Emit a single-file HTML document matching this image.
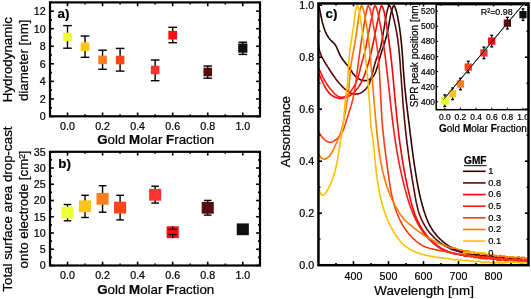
<!DOCTYPE html>
<html><head><meta charset="utf-8"><title>Figure</title>
<style>
html,body{margin:0;padding:0;background:#fff;}
svg{display:block;font-family:"Liberation Sans", Arial, sans-serif;fill:#000;}
text{stroke:#000;stroke-width:0.22px;}
</style></head>
<body>
<svg width="531" height="299" viewBox="0 0 531 299">
<rect width="531" height="299" fill="#fff"/>
<line x1="67.5" y1="116.3" x2="67.5" y2="112.5" stroke="#000" stroke-width="1.6" stroke-linecap="butt"/>
<line x1="67.5" y1="2.4" x2="67.5" y2="6.2" stroke="#000" stroke-width="1.6" stroke-linecap="butt"/>
<line x1="102.56" y1="116.3" x2="102.56" y2="112.5" stroke="#000" stroke-width="1.6" stroke-linecap="butt"/>
<line x1="102.56" y1="2.4" x2="102.56" y2="6.2" stroke="#000" stroke-width="1.6" stroke-linecap="butt"/>
<line x1="137.62" y1="116.3" x2="137.62" y2="112.5" stroke="#000" stroke-width="1.6" stroke-linecap="butt"/>
<line x1="137.62" y1="2.4" x2="137.62" y2="6.2" stroke="#000" stroke-width="1.6" stroke-linecap="butt"/>
<line x1="172.68" y1="116.3" x2="172.68" y2="112.5" stroke="#000" stroke-width="1.6" stroke-linecap="butt"/>
<line x1="172.68" y1="2.4" x2="172.68" y2="6.2" stroke="#000" stroke-width="1.6" stroke-linecap="butt"/>
<line x1="207.74" y1="116.3" x2="207.74" y2="112.5" stroke="#000" stroke-width="1.6" stroke-linecap="butt"/>
<line x1="207.74" y1="2.4" x2="207.74" y2="6.2" stroke="#000" stroke-width="1.6" stroke-linecap="butt"/>
<line x1="242.8" y1="116.3" x2="242.8" y2="112.5" stroke="#000" stroke-width="1.6" stroke-linecap="butt"/>
<line x1="242.8" y1="2.4" x2="242.8" y2="6.2" stroke="#000" stroke-width="1.6" stroke-linecap="butt"/>
<line x1="85.03" y1="116.3" x2="85.03" y2="114.3" stroke="#000" stroke-width="1.6" stroke-linecap="butt"/>
<line x1="85.03" y1="2.4" x2="85.03" y2="4.4" stroke="#000" stroke-width="1.6" stroke-linecap="butt"/>
<line x1="120.09" y1="116.3" x2="120.09" y2="114.3" stroke="#000" stroke-width="1.6" stroke-linecap="butt"/>
<line x1="120.09" y1="2.4" x2="120.09" y2="4.4" stroke="#000" stroke-width="1.6" stroke-linecap="butt"/>
<line x1="155.15" y1="116.3" x2="155.15" y2="114.3" stroke="#000" stroke-width="1.6" stroke-linecap="butt"/>
<line x1="155.15" y1="2.4" x2="155.15" y2="4.4" stroke="#000" stroke-width="1.6" stroke-linecap="butt"/>
<line x1="190.21" y1="116.3" x2="190.21" y2="114.3" stroke="#000" stroke-width="1.6" stroke-linecap="butt"/>
<line x1="190.21" y1="2.4" x2="190.21" y2="4.4" stroke="#000" stroke-width="1.6" stroke-linecap="butt"/>
<line x1="225.27" y1="116.3" x2="225.27" y2="114.3" stroke="#000" stroke-width="1.6" stroke-linecap="butt"/>
<line x1="225.27" y1="2.4" x2="225.27" y2="4.4" stroke="#000" stroke-width="1.6" stroke-linecap="butt"/>
<line x1="50" y1="116.5" x2="53.9" y2="116.5" stroke="#000" stroke-width="1.6" stroke-linecap="butt"/>
<line x1="260" y1="116.5" x2="256.1" y2="116.5" stroke="#000" stroke-width="1.6" stroke-linecap="butt"/>
<line x1="50" y1="98.94" x2="53.9" y2="98.94" stroke="#000" stroke-width="1.6" stroke-linecap="butt"/>
<line x1="260" y1="98.94" x2="256.1" y2="98.94" stroke="#000" stroke-width="1.6" stroke-linecap="butt"/>
<line x1="50" y1="81.38" x2="53.9" y2="81.38" stroke="#000" stroke-width="1.6" stroke-linecap="butt"/>
<line x1="260" y1="81.38" x2="256.1" y2="81.38" stroke="#000" stroke-width="1.6" stroke-linecap="butt"/>
<line x1="50" y1="63.82" x2="53.9" y2="63.82" stroke="#000" stroke-width="1.6" stroke-linecap="butt"/>
<line x1="260" y1="63.82" x2="256.1" y2="63.82" stroke="#000" stroke-width="1.6" stroke-linecap="butt"/>
<line x1="50" y1="46.26" x2="53.9" y2="46.26" stroke="#000" stroke-width="1.6" stroke-linecap="butt"/>
<line x1="260" y1="46.26" x2="256.1" y2="46.26" stroke="#000" stroke-width="1.6" stroke-linecap="butt"/>
<line x1="50" y1="28.7" x2="53.9" y2="28.7" stroke="#000" stroke-width="1.6" stroke-linecap="butt"/>
<line x1="260" y1="28.7" x2="256.1" y2="28.7" stroke="#000" stroke-width="1.6" stroke-linecap="butt"/>
<line x1="50" y1="11.14" x2="53.9" y2="11.14" stroke="#000" stroke-width="1.6" stroke-linecap="butt"/>
<line x1="260" y1="11.14" x2="256.1" y2="11.14" stroke="#000" stroke-width="1.6" stroke-linecap="butt"/>
<line x1="50" y1="107.72" x2="52" y2="107.72" stroke="#000" stroke-width="1.6" stroke-linecap="butt"/>
<line x1="260" y1="107.72" x2="258" y2="107.72" stroke="#000" stroke-width="1.6" stroke-linecap="butt"/>
<line x1="50" y1="90.16" x2="52" y2="90.16" stroke="#000" stroke-width="1.6" stroke-linecap="butt"/>
<line x1="260" y1="90.16" x2="258" y2="90.16" stroke="#000" stroke-width="1.6" stroke-linecap="butt"/>
<line x1="50" y1="72.6" x2="52" y2="72.6" stroke="#000" stroke-width="1.6" stroke-linecap="butt"/>
<line x1="260" y1="72.6" x2="258" y2="72.6" stroke="#000" stroke-width="1.6" stroke-linecap="butt"/>
<line x1="50" y1="55.04" x2="52" y2="55.04" stroke="#000" stroke-width="1.6" stroke-linecap="butt"/>
<line x1="260" y1="55.04" x2="258" y2="55.04" stroke="#000" stroke-width="1.6" stroke-linecap="butt"/>
<line x1="50" y1="37.48" x2="52" y2="37.48" stroke="#000" stroke-width="1.6" stroke-linecap="butt"/>
<line x1="260" y1="37.48" x2="258" y2="37.48" stroke="#000" stroke-width="1.6" stroke-linecap="butt"/>
<line x1="50" y1="19.92" x2="52" y2="19.92" stroke="#000" stroke-width="1.6" stroke-linecap="butt"/>
<line x1="260" y1="19.92" x2="258" y2="19.92" stroke="#000" stroke-width="1.6" stroke-linecap="butt"/>
<line x1="50" y1="2.36" x2="52" y2="2.36" stroke="#000" stroke-width="1.6" stroke-linecap="butt"/>
<line x1="260" y1="2.36" x2="258" y2="2.36" stroke="#000" stroke-width="1.6" stroke-linecap="butt"/>
<rect x="50" y="2.4" width="210" height="113.9" fill="none" stroke="#000" stroke-width="2.2"/>
<text x="45.6" y="120.35" font-size="10.67" text-anchor="end" font-weight="normal">0</text>
<text x="45.6" y="102.79" font-size="10.67" text-anchor="end" font-weight="normal">2</text>
<text x="45.6" y="85.23" font-size="10.67" text-anchor="end" font-weight="normal">4</text>
<text x="45.6" y="67.67" font-size="10.67" text-anchor="end" font-weight="normal">6</text>
<text x="45.6" y="50.11" font-size="10.67" text-anchor="end" font-weight="normal">8</text>
<text x="45.6" y="32.55" font-size="10.67" text-anchor="end" font-weight="normal">10</text>
<text x="45.6" y="14.99" font-size="10.67" text-anchor="end" font-weight="normal">12</text>
<text x="67.5" y="130.4" font-size="10.67" text-anchor="middle" font-weight="normal">0.0</text>
<text x="102.56" y="130.4" font-size="10.67" text-anchor="middle" font-weight="normal">0.2</text>
<text x="137.62" y="130.4" font-size="10.67" text-anchor="middle" font-weight="normal">0.4</text>
<text x="172.68" y="130.4" font-size="10.67" text-anchor="middle" font-weight="normal">0.6</text>
<text x="207.74" y="130.4" font-size="10.67" text-anchor="middle" font-weight="normal">0.8</text>
<text x="242.8" y="130.4" font-size="10.67" text-anchor="middle" font-weight="normal">1.0</text>
<text x="155.7" y="143.7" font-size="13.33" text-anchor="middle" font-weight="normal"><tspan font-weight="bold">G</tspan>old <tspan font-weight="bold">M</tspan>olar <tspan font-weight="bold">F</tspan>raction</text>
<text x="11.6" y="59.6" font-size="13.33" text-anchor="middle" font-weight="normal" transform="rotate(-90 11.6 59.6)">Hydrodynamic</text>
<text x="27.6" y="60.3" font-size="13.33" text-anchor="middle" font-weight="normal" transform="rotate(-90 27.6 60.3)">diameter [nm]</text>
<text x="57.6" y="17.6" font-size="13.33" text-anchor="start" font-weight="bold">a)</text>
<line x1="67.5" y1="25.6" x2="67.5" y2="48.2" stroke="#000" stroke-width="1.4" stroke-linecap="butt"/>
<line x1="63.2" y1="25.6" x2="71.8" y2="25.6" stroke="#000" stroke-width="1.4" stroke-linecap="butt"/>
<line x1="63.2" y1="48.2" x2="71.8" y2="48.2" stroke="#000" stroke-width="1.4" stroke-linecap="butt"/>
<rect x="63.2" y="32.6" width="8.6" height="8.6" fill="#eeff33"/>
<line x1="85.03" y1="36" x2="85.03" y2="57.3" stroke="#000" stroke-width="1.4" stroke-linecap="butt"/>
<line x1="80.73" y1="36" x2="89.33" y2="36" stroke="#000" stroke-width="1.4" stroke-linecap="butt"/>
<line x1="80.73" y1="57.3" x2="89.33" y2="57.3" stroke="#000" stroke-width="1.4" stroke-linecap="butt"/>
<rect x="80.73" y="42.4" width="8.6" height="8.6" fill="#ffc21e"/>
<line x1="102.56" y1="50.2" x2="102.56" y2="69.3" stroke="#000" stroke-width="1.4" stroke-linecap="butt"/>
<line x1="98.26" y1="50.2" x2="106.86" y2="50.2" stroke="#000" stroke-width="1.4" stroke-linecap="butt"/>
<line x1="98.26" y1="69.3" x2="106.86" y2="69.3" stroke="#000" stroke-width="1.4" stroke-linecap="butt"/>
<rect x="98.26" y="55.6" width="8.6" height="8.6" fill="#ff7f1e"/>
<line x1="120.09" y1="48.4" x2="120.09" y2="71.1" stroke="#000" stroke-width="1.4" stroke-linecap="butt"/>
<line x1="115.79" y1="48.4" x2="124.39" y2="48.4" stroke="#000" stroke-width="1.4" stroke-linecap="butt"/>
<line x1="115.79" y1="71.1" x2="124.39" y2="71.1" stroke="#000" stroke-width="1.4" stroke-linecap="butt"/>
<rect x="115.79" y="55.7" width="8.6" height="8.6" fill="#ff4518"/>
<line x1="155.15" y1="60" x2="155.15" y2="80.7" stroke="#000" stroke-width="1.4" stroke-linecap="butt"/>
<line x1="150.85" y1="60" x2="159.45" y2="60" stroke="#000" stroke-width="1.4" stroke-linecap="butt"/>
<line x1="150.85" y1="80.7" x2="159.45" y2="80.7" stroke="#000" stroke-width="1.4" stroke-linecap="butt"/>
<rect x="150.85" y="65.7" width="8.6" height="8.6" fill="#ff3030"/>
<line x1="172.68" y1="27.3" x2="172.68" y2="42.7" stroke="#000" stroke-width="1.4" stroke-linecap="butt"/>
<line x1="168.38" y1="27.3" x2="176.98" y2="27.3" stroke="#000" stroke-width="1.4" stroke-linecap="butt"/>
<line x1="168.38" y1="42.7" x2="176.98" y2="42.7" stroke="#000" stroke-width="1.4" stroke-linecap="butt"/>
<rect x="168.38" y="30.9" width="8.6" height="8.6" fill="#ff0c0c"/>
<line x1="207.74" y1="66" x2="207.74" y2="78.2" stroke="#000" stroke-width="1.4" stroke-linecap="butt"/>
<line x1="203.44" y1="66" x2="212.04" y2="66" stroke="#000" stroke-width="1.4" stroke-linecap="butt"/>
<line x1="203.44" y1="78.2" x2="212.04" y2="78.2" stroke="#000" stroke-width="1.4" stroke-linecap="butt"/>
<rect x="203.44" y="67.7" width="8.6" height="8.6" fill="#5a0c0c"/>
<line x1="242.8" y1="42.2" x2="242.8" y2="54.4" stroke="#000" stroke-width="1.4" stroke-linecap="butt"/>
<line x1="238.5" y1="42.2" x2="247.1" y2="42.2" stroke="#000" stroke-width="1.4" stroke-linecap="butt"/>
<line x1="238.5" y1="54.4" x2="247.1" y2="54.4" stroke="#000" stroke-width="1.4" stroke-linecap="butt"/>
<rect x="238.2" y="43.5" width="9.2" height="9.2" fill="#101010"/>
<line x1="67.5" y1="265.5" x2="67.5" y2="261.7" stroke="#000" stroke-width="1.6" stroke-linecap="butt"/>
<line x1="67.5" y1="151.8" x2="67.5" y2="155.6" stroke="#000" stroke-width="1.6" stroke-linecap="butt"/>
<line x1="102.56" y1="265.5" x2="102.56" y2="261.7" stroke="#000" stroke-width="1.6" stroke-linecap="butt"/>
<line x1="102.56" y1="151.8" x2="102.56" y2="155.6" stroke="#000" stroke-width="1.6" stroke-linecap="butt"/>
<line x1="137.62" y1="265.5" x2="137.62" y2="261.7" stroke="#000" stroke-width="1.6" stroke-linecap="butt"/>
<line x1="137.62" y1="151.8" x2="137.62" y2="155.6" stroke="#000" stroke-width="1.6" stroke-linecap="butt"/>
<line x1="172.68" y1="265.5" x2="172.68" y2="261.7" stroke="#000" stroke-width="1.6" stroke-linecap="butt"/>
<line x1="172.68" y1="151.8" x2="172.68" y2="155.6" stroke="#000" stroke-width="1.6" stroke-linecap="butt"/>
<line x1="207.74" y1="265.5" x2="207.74" y2="261.7" stroke="#000" stroke-width="1.6" stroke-linecap="butt"/>
<line x1="207.74" y1="151.8" x2="207.74" y2="155.6" stroke="#000" stroke-width="1.6" stroke-linecap="butt"/>
<line x1="242.8" y1="265.5" x2="242.8" y2="261.7" stroke="#000" stroke-width="1.6" stroke-linecap="butt"/>
<line x1="242.8" y1="151.8" x2="242.8" y2="155.6" stroke="#000" stroke-width="1.6" stroke-linecap="butt"/>
<line x1="85.03" y1="265.5" x2="85.03" y2="263.5" stroke="#000" stroke-width="1.6" stroke-linecap="butt"/>
<line x1="85.03" y1="151.8" x2="85.03" y2="153.8" stroke="#000" stroke-width="1.6" stroke-linecap="butt"/>
<line x1="120.09" y1="265.5" x2="120.09" y2="263.5" stroke="#000" stroke-width="1.6" stroke-linecap="butt"/>
<line x1="120.09" y1="151.8" x2="120.09" y2="153.8" stroke="#000" stroke-width="1.6" stroke-linecap="butt"/>
<line x1="155.15" y1="265.5" x2="155.15" y2="263.5" stroke="#000" stroke-width="1.6" stroke-linecap="butt"/>
<line x1="155.15" y1="151.8" x2="155.15" y2="153.8" stroke="#000" stroke-width="1.6" stroke-linecap="butt"/>
<line x1="190.21" y1="265.5" x2="190.21" y2="263.5" stroke="#000" stroke-width="1.6" stroke-linecap="butt"/>
<line x1="190.21" y1="151.8" x2="190.21" y2="153.8" stroke="#000" stroke-width="1.6" stroke-linecap="butt"/>
<line x1="225.27" y1="265.5" x2="225.27" y2="263.5" stroke="#000" stroke-width="1.6" stroke-linecap="butt"/>
<line x1="225.27" y1="151.8" x2="225.27" y2="153.8" stroke="#000" stroke-width="1.6" stroke-linecap="butt"/>
<line x1="50" y1="265.5" x2="53.9" y2="265.5" stroke="#000" stroke-width="1.6" stroke-linecap="butt"/>
<line x1="260" y1="265.5" x2="256.1" y2="265.5" stroke="#000" stroke-width="1.6" stroke-linecap="butt"/>
<line x1="50" y1="249.25" x2="53.9" y2="249.25" stroke="#000" stroke-width="1.6" stroke-linecap="butt"/>
<line x1="260" y1="249.25" x2="256.1" y2="249.25" stroke="#000" stroke-width="1.6" stroke-linecap="butt"/>
<line x1="50" y1="233" x2="53.9" y2="233" stroke="#000" stroke-width="1.6" stroke-linecap="butt"/>
<line x1="260" y1="233" x2="256.1" y2="233" stroke="#000" stroke-width="1.6" stroke-linecap="butt"/>
<line x1="50" y1="216.75" x2="53.9" y2="216.75" stroke="#000" stroke-width="1.6" stroke-linecap="butt"/>
<line x1="260" y1="216.75" x2="256.1" y2="216.75" stroke="#000" stroke-width="1.6" stroke-linecap="butt"/>
<line x1="50" y1="200.5" x2="53.9" y2="200.5" stroke="#000" stroke-width="1.6" stroke-linecap="butt"/>
<line x1="260" y1="200.5" x2="256.1" y2="200.5" stroke="#000" stroke-width="1.6" stroke-linecap="butt"/>
<line x1="50" y1="184.25" x2="53.9" y2="184.25" stroke="#000" stroke-width="1.6" stroke-linecap="butt"/>
<line x1="260" y1="184.25" x2="256.1" y2="184.25" stroke="#000" stroke-width="1.6" stroke-linecap="butt"/>
<line x1="50" y1="168" x2="53.9" y2="168" stroke="#000" stroke-width="1.6" stroke-linecap="butt"/>
<line x1="260" y1="168" x2="256.1" y2="168" stroke="#000" stroke-width="1.6" stroke-linecap="butt"/>
<line x1="50" y1="151.75" x2="53.9" y2="151.75" stroke="#000" stroke-width="1.6" stroke-linecap="butt"/>
<line x1="260" y1="151.75" x2="256.1" y2="151.75" stroke="#000" stroke-width="1.6" stroke-linecap="butt"/>
<line x1="50" y1="257.38" x2="52" y2="257.38" stroke="#000" stroke-width="1.6" stroke-linecap="butt"/>
<line x1="260" y1="257.38" x2="258" y2="257.38" stroke="#000" stroke-width="1.6" stroke-linecap="butt"/>
<line x1="50" y1="241.12" x2="52" y2="241.12" stroke="#000" stroke-width="1.6" stroke-linecap="butt"/>
<line x1="260" y1="241.12" x2="258" y2="241.12" stroke="#000" stroke-width="1.6" stroke-linecap="butt"/>
<line x1="50" y1="224.88" x2="52" y2="224.88" stroke="#000" stroke-width="1.6" stroke-linecap="butt"/>
<line x1="260" y1="224.88" x2="258" y2="224.88" stroke="#000" stroke-width="1.6" stroke-linecap="butt"/>
<line x1="50" y1="208.62" x2="52" y2="208.62" stroke="#000" stroke-width="1.6" stroke-linecap="butt"/>
<line x1="260" y1="208.62" x2="258" y2="208.62" stroke="#000" stroke-width="1.6" stroke-linecap="butt"/>
<line x1="50" y1="192.38" x2="52" y2="192.38" stroke="#000" stroke-width="1.6" stroke-linecap="butt"/>
<line x1="260" y1="192.38" x2="258" y2="192.38" stroke="#000" stroke-width="1.6" stroke-linecap="butt"/>
<line x1="50" y1="176.12" x2="52" y2="176.12" stroke="#000" stroke-width="1.6" stroke-linecap="butt"/>
<line x1="260" y1="176.12" x2="258" y2="176.12" stroke="#000" stroke-width="1.6" stroke-linecap="butt"/>
<line x1="50" y1="159.88" x2="52" y2="159.88" stroke="#000" stroke-width="1.6" stroke-linecap="butt"/>
<line x1="260" y1="159.88" x2="258" y2="159.88" stroke="#000" stroke-width="1.6" stroke-linecap="butt"/>
<rect x="50" y="151.8" width="210" height="113.7" fill="none" stroke="#000" stroke-width="2.2"/>
<text x="45.6" y="269.35" font-size="10.67" text-anchor="end" font-weight="normal">0</text>
<text x="45.6" y="253.1" font-size="10.67" text-anchor="end" font-weight="normal">5</text>
<text x="45.6" y="236.85" font-size="10.67" text-anchor="end" font-weight="normal">10</text>
<text x="45.6" y="220.6" font-size="10.67" text-anchor="end" font-weight="normal">15</text>
<text x="45.6" y="204.35" font-size="10.67" text-anchor="end" font-weight="normal">20</text>
<text x="45.6" y="188.1" font-size="10.67" text-anchor="end" font-weight="normal">25</text>
<text x="45.6" y="171.85" font-size="10.67" text-anchor="end" font-weight="normal">30</text>
<text x="45.6" y="155.6" font-size="10.67" text-anchor="end" font-weight="normal">35</text>
<text x="67.5" y="279.2" font-size="10.67" text-anchor="middle" font-weight="normal">0.0</text>
<text x="102.56" y="279.2" font-size="10.67" text-anchor="middle" font-weight="normal">0.2</text>
<text x="137.62" y="279.2" font-size="10.67" text-anchor="middle" font-weight="normal">0.4</text>
<text x="172.68" y="279.2" font-size="10.67" text-anchor="middle" font-weight="normal">0.6</text>
<text x="207.74" y="279.2" font-size="10.67" text-anchor="middle" font-weight="normal">0.8</text>
<text x="242.8" y="279.2" font-size="10.67" text-anchor="middle" font-weight="normal">1.0</text>
<text x="155.7" y="294.1" font-size="13.33" text-anchor="middle" font-weight="normal"><tspan font-weight="bold">G</tspan>old <tspan font-weight="bold">M</tspan>olar <tspan font-weight="bold">F</tspan>raction</text>
<text x="11.6" y="209.1" font-size="13.33" text-anchor="middle" font-weight="normal" transform="rotate(-90 11.6 209.1)">Total surface area drop-cast</text>
<text x="27.6" y="209.5" font-size="13.33" text-anchor="middle" font-weight="normal" transform="rotate(-90 27.6 209.5)">onto electrode [cm²]</text>
<text x="58.3" y="168.3" font-size="13.33" text-anchor="start" font-weight="bold">b)</text>
<line x1="67.5" y1="204.5" x2="67.5" y2="220.8" stroke="#000" stroke-width="1.4" stroke-linecap="butt"/>
<line x1="63.7" y1="204.5" x2="71.3" y2="204.5" stroke="#000" stroke-width="1.4" stroke-linecap="butt"/>
<line x1="63.7" y1="220.8" x2="71.3" y2="220.8" stroke="#000" stroke-width="1.4" stroke-linecap="butt"/>
<rect x="61.45" y="206.7" width="12.1" height="11.8" fill="#eeff33"/>
<line x1="85.03" y1="195.3" x2="85.03" y2="217.5" stroke="#000" stroke-width="1.4" stroke-linecap="butt"/>
<line x1="81.23" y1="195.3" x2="88.83" y2="195.3" stroke="#000" stroke-width="1.4" stroke-linecap="butt"/>
<line x1="81.23" y1="217.5" x2="88.83" y2="217.5" stroke="#000" stroke-width="1.4" stroke-linecap="butt"/>
<rect x="78.98" y="200.4" width="12.1" height="11.8" fill="#ffc21e"/>
<line x1="102.56" y1="185.7" x2="102.56" y2="212.2" stroke="#000" stroke-width="1.4" stroke-linecap="butt"/>
<line x1="98.76" y1="185.7" x2="106.36" y2="185.7" stroke="#000" stroke-width="1.4" stroke-linecap="butt"/>
<line x1="98.76" y1="212.2" x2="106.36" y2="212.2" stroke="#000" stroke-width="1.4" stroke-linecap="butt"/>
<rect x="96.51" y="192.9" width="12.1" height="11.8" fill="#ff7f1e"/>
<line x1="120.09" y1="195.3" x2="120.09" y2="219.9" stroke="#000" stroke-width="1.4" stroke-linecap="butt"/>
<line x1="116.29" y1="195.3" x2="123.89" y2="195.3" stroke="#000" stroke-width="1.4" stroke-linecap="butt"/>
<line x1="116.29" y1="219.9" x2="123.89" y2="219.9" stroke="#000" stroke-width="1.4" stroke-linecap="butt"/>
<rect x="114.04" y="201.7" width="12.1" height="11.8" fill="#ff4518"/>
<line x1="155.15" y1="186.2" x2="155.15" y2="203.1" stroke="#000" stroke-width="1.4" stroke-linecap="butt"/>
<line x1="151.35" y1="186.2" x2="158.95" y2="186.2" stroke="#000" stroke-width="1.4" stroke-linecap="butt"/>
<line x1="151.35" y1="203.1" x2="158.95" y2="203.1" stroke="#000" stroke-width="1.4" stroke-linecap="butt"/>
<rect x="149.1" y="188.9" width="12.1" height="11.8" fill="#ff3030"/>
<rect x="166.63" y="226.3" width="12.1" height="11.8" fill="#ff0c0c"/>
<line x1="172.68" y1="226.2" x2="172.68" y2="229.4" stroke="#000" stroke-width="1.3" stroke-linecap="butt"/>
<line x1="172.68" y1="234.5" x2="172.68" y2="238.3" stroke="#000" stroke-width="1.3" stroke-linecap="butt"/>
<line x1="168.58" y1="229.4" x2="176.78" y2="229.4" stroke="#000" stroke-width="1.3" stroke-linecap="butt"/>
<line x1="168.58" y1="234.5" x2="176.78" y2="234.5" stroke="#000" stroke-width="1.3" stroke-linecap="butt"/>
<line x1="207.74" y1="200.4" x2="207.74" y2="215.1" stroke="#000" stroke-width="1.4" stroke-linecap="butt"/>
<line x1="203.94" y1="200.4" x2="211.54" y2="200.4" stroke="#000" stroke-width="1.4" stroke-linecap="butt"/>
<line x1="203.94" y1="215.1" x2="211.54" y2="215.1" stroke="#000" stroke-width="1.4" stroke-linecap="butt"/>
<rect x="201.69" y="201.9" width="12.1" height="11.8" fill="#5a0c0c"/>
<line x1="242.8" y1="226" x2="242.8" y2="232.6" stroke="#000" stroke-width="1.4" stroke-linecap="butt"/>
<line x1="239" y1="226" x2="246.6" y2="226" stroke="#000" stroke-width="1.4" stroke-linecap="butt"/>
<line x1="239" y1="232.6" x2="246.6" y2="232.6" stroke="#000" stroke-width="1.4" stroke-linecap="butt"/>
<rect x="236.75" y="223.4" width="12.1" height="11.8" fill="#101010"/>
<clipPath id="cc"><rect x="318.45" y="3.45" width="210.05" height="261.75"/></clipPath>
<g clip-path="url(#cc)" fill="none" stroke-width="1.6" stroke-linejoin="round">
<path d="M318.7,5.1 319.0,5.7 319.2,6.9 319.5,8.2 319.7,9.4 319.9,10.6 320.2,11.8 320.4,13.1 320.6,14.3 320.9,15.5 321.1,16.8 321.4,18.0 321.7,19.2 321.9,20.4 322.2,21.7 322.5,22.9 322.9,24.1 323.2,25.3 323.6,26.5 323.9,27.7 324.3,28.9 324.8,30.0 325.2,31.2 325.7,32.4 326.3,33.5 326.8,34.6 327.4,35.8 328.1,36.8 328.8,37.9 329.5,38.9 330.3,39.8 331.2,40.7 332.2,41.6 333.1,42.4 334.0,43.3 334.8,44.2 335.5,45.2 336.1,46.3 336.7,47.4 337.2,48.6 337.7,49.7 338.2,50.9 338.7,52.1 339.2,53.2 339.7,54.4 340.2,55.5 340.9,56.6 341.5,57.7 342.2,58.7 342.9,59.7 343.7,60.7 344.5,61.7 345.2,62.7 346.0,63.7 346.8,64.6 347.6,65.6 348.4,66.6 349.1,67.7 349.8,68.7 350.5,69.7 351.2,70.8 351.9,71.8 352.6,72.9 353.4,73.9 354.2,74.8 355.0,75.8 355.9,76.7 356.8,77.5 357.9,78.3 358.9,78.9 360.1,79.5 361.2,80.0 362.4,80.4 363.7,80.6 364.9,80.6 366.2,80.5 367.4,80.2 368.7,79.8 369.9,79.2 370.9,78.6 371.9,77.8 372.7,76.9 373.5,75.9 374.2,74.9 374.8,73.8 375.3,72.7 375.8,71.5 376.2,70.3 376.6,69.1 377.0,67.9 377.4,66.7 377.7,65.4 378.1,64.2 378.4,63.0 378.7,61.8 379.0,60.6 379.4,59.4 379.7,58.2 380.1,57.0 380.4,55.8 380.8,54.6 381.1,53.4 381.5,52.2 381.9,51.0 382.3,49.8 382.7,48.7 383.1,47.5 383.4,46.3 383.8,45.1 384.2,43.9 384.6,42.7 385.0,41.5 385.3,40.3 385.7,39.1 386.0,37.8 386.3,36.6 386.7,35.4 387.0,34.2 387.2,33.0 387.5,31.7 387.8,30.5 388.0,29.2 388.3,28.0 388.5,26.8 388.7,25.5 388.9,24.3 389.1,23.1 389.3,21.8 389.5,20.6 389.8,19.4 390.0,18.2 390.2,17.0 390.4,15.8 390.7,14.6 390.9,13.4 391.2,12.2 391.6,10.9 392.0,9.6 392.4,8.3 392.9,6.9 393.5,5.9 394.0,5.6 394.6,6.3 395.1,7.5 395.6,8.9 396.1,10.2 396.4,11.5 396.8,12.7 397.0,13.9 397.3,15.1 397.5,16.3 397.8,17.5 398.0,18.7 398.2,19.9 398.4,21.1 398.7,22.3 398.9,23.6 399.1,24.8 399.3,26.1 399.5,27.3 399.7,28.5 399.8,29.8 400.0,31.0 400.2,32.3 400.3,33.6 400.5,34.8 400.7,36.1 400.8,37.3 400.9,38.6 401.1,39.8 401.2,41.1 401.3,42.3 401.5,43.6 401.6,44.8 401.7,46.1 401.8,47.3 401.9,48.6 402.0,49.8 402.1,51.1 402.2,52.3 402.3,53.6 402.4,54.8 402.5,56.1 402.6,57.3 402.7,58.6 402.7,59.8 402.8,61.1 402.9,62.3 403.0,63.6 403.1,64.8 403.2,66.1 403.2,67.3 403.3,68.6 403.4,69.8 403.5,71.1 403.6,72.3 403.7,73.6 403.8,74.8 403.9,76.1 404.0,77.3 404.1,78.6 404.2,79.8 404.3,81.1 404.4,82.3 404.5,83.6 404.6,84.8 404.7,86.1 404.8,87.3 405.0,88.6 405.1,89.8 405.2,91.1 405.3,92.3 405.5,93.6 405.6,94.8 405.7,96.1 405.9,97.3 406.0,98.6 406.1,99.8 406.3,101.1 406.4,102.3 406.6,103.6 406.7,104.8 406.9,106.1 407.0,107.3 407.2,108.5 407.3,109.8 407.5,111.0 407.6,112.3 407.8,113.5 407.9,114.8 408.1,116.0 408.2,117.3 408.4,118.5 408.5,119.8 408.7,121.0 408.8,122.2 409.0,123.5 409.2,124.7 409.3,126.0 409.5,127.2 409.6,128.5 409.8,129.7 409.9,131.0 410.1,132.2 410.2,133.4 410.4,134.7 410.5,135.9 410.7,137.2 410.9,138.4 411.0,139.7 411.2,140.9 411.3,142.1 411.5,143.4 411.6,144.6 411.8,145.9 412.0,147.1 412.1,148.4 412.3,149.6 412.4,150.8 412.6,152.1 412.8,153.3 412.9,154.6 413.1,155.8 413.3,157.1 413.4,158.3 413.6,159.5 413.8,160.8 414.0,162.0 414.1,163.3 414.3,164.5 414.5,165.7 414.7,167.0 414.9,168.2 415.1,169.5 415.3,170.7 415.5,172.0 415.7,173.2 415.9,174.4 416.1,175.7 416.3,176.9 416.5,178.2 416.7,179.4 416.9,180.7 417.1,181.9 417.4,183.1 417.6,184.4 417.8,185.6 418.1,186.8 418.3,188.1 418.5,189.3 418.8,190.5 419.1,191.8 419.3,193.0 419.6,194.2 419.9,195.5 420.2,196.7 420.4,197.9 420.7,199.1 421.0,200.3 421.4,201.6 421.7,202.8 422.0,204.0 422.3,205.2 422.7,206.4 423.0,207.6 423.4,208.8 423.7,210.0 424.1,211.2 424.5,212.4 424.9,213.6 425.3,214.7 425.7,215.9 426.1,217.1 426.5,218.3 427.0,219.4 427.5,220.6 428.0,221.7 428.5,222.9 429.0,224.0 429.6,225.1 430.2,226.2 430.8,227.3 431.5,228.4 432.1,229.5 432.8,230.5 433.6,231.6 434.3,232.6 435.1,233.6 435.9,234.6 436.7,235.6 437.5,236.5 438.4,237.4 439.3,238.3 440.2,239.2 441.1,240.0 442.1,240.9 443.0,241.8 444.0,242.5 445.0,243.4 446.0,244.2 447.0,244.8 448.1,245.5 449.1,246.4 450.2,246.7 451.3,247.3 452.4,247.7 453.5,248.5 454.6,249.3 455.7,249.7 456.9,249.8 458.0,250.2 459.2,250.7 460.4,251.3 461.5,251.6 462.7,252.1 463.9,252.4 465.2,252.6 466.4,253.0 467.6,253.4 468.8,253.6 470.1,254.0 471.3,254.7 472.5,254.6 473.8,254.6 475.0,254.2 476.3,255.2 477.5,254.4 478.8,254.8 480.1,255.9 481.3,256.1 482.6,255.9 483.8,255.3 485.1,256.1 486.4,256.1 487.6,256.9 488.9,257.8 490.1,257.0 491.4,256.6 492.6,256.5 493.9,257.3 495.1,257.3 496.3,257.0 497.6,257.8 498.8,257.2 500.1,258.6 501.3,258.7 502.5,258.9 503.8,258.2 505.0,258.8 506.2,258.6 507.5,258.6 508.7,258.7 509.9,258.3 511.2,258.4 512.4,259.7 513.6,259.3 514.9,259.6 516.1,260.1 517.4,258.7 518.6,259.3 519.9,259.9 521.1,260.1 522.4,259.8 523.7,260.6 524.9,260.2 526.2,259.5 527.5,259.7" stroke="#300404"/>
<path d="M318.5,44.5 318.6,45.8 318.8,47.1 319.0,48.3 319.2,49.6 319.5,50.8 319.9,52.0 320.3,53.2 320.8,54.3 321.2,55.5 321.7,56.6 322.3,57.7 322.9,58.9 323.5,59.9 324.1,61.0 324.7,62.1 325.4,63.2 326.0,64.3 326.7,65.3 327.4,66.4 328.1,67.4 328.8,68.5 329.4,69.5 330.1,70.6 330.8,71.7 331.5,72.7 332.2,73.7 332.9,74.8 333.6,75.8 334.4,76.8 335.1,77.9 335.8,78.9 336.6,79.9 337.4,80.9 338.1,81.8 338.9,82.8 339.7,83.8 340.6,84.7 341.4,85.6 342.3,86.6 343.2,87.4 344.1,88.3 345.0,89.1 346.0,89.9 347.0,90.7 348.0,91.4 349.1,92.1 350.2,92.7 351.4,93.3 352.5,93.7 353.8,94.0 355.0,94.1 356.3,94.0 357.5,93.9 358.8,93.6 360.0,93.2 361.1,92.7 362.2,92.1 363.3,91.4 364.2,90.6 365.2,89.7 366.0,88.8 366.8,87.8 367.5,86.8 368.2,85.7 368.8,84.6 369.3,83.4 369.8,82.3 370.2,81.1 370.6,79.9 371.0,78.7 371.3,77.5 371.6,76.3 372.0,75.0 372.3,73.8 372.6,72.6 372.9,71.4 373.2,70.2 373.5,69.0 373.8,67.7 374.1,66.5 374.5,65.3 374.8,64.1 375.1,62.9 375.5,61.7 375.9,60.5 376.2,59.3 376.7,58.1 377.1,56.9 377.5,55.7 378.0,54.6 378.4,53.4 378.9,52.2 379.3,51.0 379.7,49.9 380.1,48.7 380.5,47.5 380.8,46.3 381.1,45.1 381.4,43.8 381.6,42.6 381.9,41.4 382.1,40.2 382.3,38.9 382.5,37.7 382.7,36.4 382.9,35.2 383.1,33.9 383.3,32.6 383.5,31.4 383.7,30.1 384.0,28.9 384.2,27.6 384.4,26.3 384.6,25.1 384.8,23.8 385.0,22.6 385.2,21.4 385.4,20.2 385.6,19.0 385.8,17.8 386.0,16.6 386.2,15.4 386.5,14.2 386.7,13.1 387.0,11.8 387.3,10.5 387.7,9.2 388.1,7.8 388.6,6.4 389.2,5.6 389.7,5.7 390.3,6.7 390.8,8.1 391.3,9.5 391.7,10.8 392.1,12.1 392.4,13.3 392.7,14.4 393.0,15.6 393.3,16.7 393.5,17.9 393.8,19.1 394.1,20.3 394.4,21.5 394.7,22.7 394.9,23.9 395.2,25.1 395.5,26.4 395.7,27.6 396.0,28.9 396.2,30.1 396.4,31.4 396.7,32.6 396.9,33.9 397.1,35.1 397.3,36.4 397.5,37.6 397.7,38.9 397.9,40.1 398.0,41.4 398.2,42.6 398.3,43.9 398.5,45.1 398.6,46.4 398.8,47.6 398.9,48.9 399.0,50.1 399.1,51.4 399.3,52.6 399.4,53.9 399.5,55.1 399.6,56.4 399.7,57.6 399.8,58.9 399.9,60.1 400.0,61.4 400.1,62.6 400.2,63.9 400.3,65.1 400.4,66.4 400.4,67.6 400.5,68.9 400.6,70.1 400.7,71.4 400.8,72.6 400.9,73.9 401.0,75.1 401.1,76.4 401.2,77.6 401.3,78.9 401.3,80.1 401.4,81.4 401.5,82.6 401.6,83.9 401.7,85.2 401.8,86.4 401.9,87.7 402.0,88.9 402.1,90.2 402.2,91.4 402.3,92.7 402.3,93.9 402.4,95.2 402.5,96.4 402.6,97.7 402.7,98.9 402.8,100.2 402.9,101.5 403.0,102.7 403.1,104.0 403.2,105.2 403.3,106.5 403.4,107.7 403.5,109.0 403.6,110.2 403.7,111.5 403.9,112.7 404.0,114.0 404.1,115.2 404.2,116.5 404.3,117.7 404.4,119.0 404.5,120.2 404.7,121.5 404.8,122.7 404.9,124.0 405.0,125.2 405.2,126.5 405.3,127.7 405.4,129.0 405.5,130.2 405.7,131.5 405.8,132.7 406.0,134.0 406.1,135.2 406.2,136.5 406.4,137.7 406.5,139.0 406.7,140.2 406.8,141.5 407.0,142.7 407.1,143.9 407.3,145.2 407.5,146.4 407.6,147.7 407.8,148.9 407.9,150.2 408.1,151.4 408.3,152.7 408.4,153.9 408.6,155.1 408.8,156.4 408.9,157.6 409.1,158.9 409.3,160.1 409.5,161.4 409.7,162.6 409.8,163.8 410.0,165.1 410.2,166.3 410.4,167.6 410.6,168.8 410.8,170.0 411.0,171.3 411.2,172.5 411.4,173.8 411.6,175.0 411.7,176.2 411.9,177.5 412.1,178.7 412.4,180.0 412.6,181.2 412.8,182.5 413.0,183.7 413.2,184.9 413.4,186.2 413.6,187.4 413.8,188.7 414.0,189.9 414.2,191.1 414.5,192.4 414.7,193.6 414.9,194.9 415.1,196.1 415.3,197.4 415.6,198.6 415.8,199.8 416.0,201.1 416.3,202.3 416.5,203.6 416.8,204.8 417.1,206.0 417.4,207.2 417.7,208.4 418.0,209.7 418.3,210.9 418.7,212.1 419.1,213.2 419.5,214.4 419.9,215.6 420.4,216.8 420.8,217.9 421.3,219.1 421.8,220.2 422.4,221.3 423.0,222.4 423.5,223.5 424.2,224.6 424.8,225.7 425.5,226.8 426.1,227.8 426.8,228.9 427.6,229.9 428.3,230.9 429.1,231.9 429.9,232.9 430.7,233.9 431.5,234.8 432.4,235.8 433.2,236.7 434.1,237.6 435.0,238.5 436.0,239.3 436.9,240.2 437.9,241.0 438.8,241.7 439.8,242.6 440.9,243.2 441.9,244.0 442.9,244.7 444.0,245.3 445.1,246.0 446.2,246.5 447.3,247.1 448.4,247.5 449.5,248.2 450.7,249.0 451.8,249.5 453.0,249.9 454.2,250.2 455.4,250.4 456.6,251.2 457.8,251.2 459.0,251.6 460.2,251.9 461.4,252.3 462.7,252.4 463.9,252.8 465.1,252.8 466.4,253.2 467.6,254.3 468.8,253.8 470.1,254.0 471.3,254.5 472.6,254.8 473.8,254.3 475.0,254.9 476.3,255.5 477.5,255.4 478.8,255.6 480.0,256.3 481.2,255.6 482.5,256.1 483.7,256.0 485.0,257.0 486.2,255.6 487.5,256.4 488.7,256.6 489.9,257.3 491.2,257.4 492.4,258.0 493.7,256.6 494.9,258.0 496.2,257.5 497.4,257.5 498.7,258.3 499.9,257.6 501.2,257.1 502.4,258.1 503.7,257.6 504.9,258.2 506.2,258.9 507.4,259.0 508.7,259.8 509.9,258.9 511.2,258.3 512.5,258.8 513.7,258.8 515.0,258.7 516.2,259.7 517.5,259.2 518.7,258.5 520.0,260.1 521.2,259.7 522.5,260.0 523.7,259.9 525.0,260.3 526.2,260.0 527.5,260.7" stroke="#5a0a0a"/>
<path d="M318.5,73.0 319.0,74.1 319.5,75.2 320.1,76.3 320.6,77.4 321.1,78.6 321.6,79.7 322.1,80.9 322.6,82.1 323.1,83.3 323.7,84.4 324.3,85.6 324.9,86.7 325.5,87.8 326.1,88.9 326.8,90.0 327.6,91.0 328.3,91.9 329.2,92.9 330.0,93.8 331.0,94.6 331.9,95.3 333.0,96.0 334.1,96.7 335.2,97.2 336.4,97.6 337.5,98.0 338.7,98.2 340.0,98.4 341.2,98.4 342.5,98.3 343.7,98.0 344.9,97.7 346.1,97.3 347.3,96.8 348.5,96.3 349.6,95.7 350.8,95.0 351.8,94.2 352.8,93.4 353.8,92.6 354.7,91.7 355.5,90.8 356.4,89.9 357.1,88.9 357.9,87.9 358.6,86.9 359.3,85.9 359.9,84.8 360.5,83.7 361.1,82.6 361.6,81.5 362.2,80.4 362.7,79.2 363.2,78.1 363.7,76.9 364.2,75.8 364.6,74.6 365.1,73.4 365.5,72.2 365.9,71.1 366.3,69.9 366.7,68.7 367.1,67.5 367.5,66.3 367.8,65.1 368.2,63.9 368.5,62.7 368.9,61.5 369.2,60.3 369.5,59.1 369.8,57.9 370.1,56.6 370.4,55.4 370.7,54.2 371.0,53.0 371.3,51.7 371.6,50.5 371.8,49.3 372.1,48.1 372.4,46.8 372.6,45.6 372.9,44.4 373.2,43.1 373.4,41.9 373.7,40.7 373.9,39.4 374.2,38.2 374.5,37.0 374.7,35.7 374.9,34.5 375.2,33.3 375.4,32.0 375.7,30.8 375.9,29.6 376.2,28.4 376.4,27.1 376.7,25.9 376.9,24.7 377.1,23.5 377.4,22.3 377.6,21.1 377.9,19.8 378.1,18.6 378.3,17.4 378.6,16.2 378.8,15.0 379.1,13.8 379.3,12.6 379.6,11.3 379.9,10.0 380.3,8.6 380.7,7.2 381.1,6.1 381.6,5.6 382.1,6.1 382.6,7.2 383.2,8.6 383.6,9.9 384.0,11.3 384.3,12.5 384.5,13.8 384.8,15.0 385.0,16.2 385.2,17.4 385.4,18.6 385.6,19.8 385.8,21.1 386.0,22.3 386.3,23.5 386.5,24.7 386.6,25.9 386.8,27.2 387.0,28.4 387.2,29.6 387.4,30.9 387.6,32.1 387.8,33.3 388.0,34.6 388.2,35.8 388.3,37.0 388.5,38.3 388.7,39.5 388.9,40.8 389.0,42.0 389.2,43.2 389.4,44.5 389.5,45.7 389.7,47.0 389.9,48.2 390.0,49.5 390.2,50.7 390.3,52.0 390.5,53.2 390.7,54.5 390.8,55.7 390.9,57.0 391.1,58.2 391.2,59.5 391.4,60.7 391.5,62.0 391.7,63.2 391.8,64.5 391.9,65.7 392.0,67.0 392.2,68.2 392.3,69.5 392.4,70.7 392.5,72.0 392.7,73.2 392.8,74.5 392.9,75.7 393.0,76.9 393.1,78.2 393.2,79.4 393.4,80.7 393.5,81.9 393.6,83.2 393.7,84.4 393.8,85.7 393.9,86.9 394.0,88.2 394.2,89.4 394.3,90.6 394.4,91.9 394.5,93.1 394.6,94.4 394.7,95.6 394.8,96.9 395.0,98.1 395.1,99.4 395.2,100.6 395.3,101.9 395.4,103.1 395.5,104.4 395.7,105.6 395.8,106.9 395.9,108.1 396.0,109.3 396.2,110.6 396.3,111.8 396.4,113.1 396.5,114.3 396.7,115.6 396.8,116.8 396.9,118.1 397.1,119.3 397.2,120.6 397.3,121.8 397.5,123.1 397.6,124.3 397.8,125.6 397.9,126.8 398.0,128.1 398.2,129.3 398.3,130.6 398.5,131.8 398.6,133.1 398.8,134.3 398.9,135.5 399.1,136.8 399.2,138.0 399.4,139.3 399.6,140.5 399.7,141.8 399.9,143.0 400.1,144.3 400.2,145.5 400.4,146.7 400.6,148.0 400.8,149.2 400.9,150.5 401.1,151.7 401.3,152.9 401.5,154.2 401.7,155.4 401.9,156.7 402.1,157.9 402.3,159.1 402.5,160.4 402.7,161.6 402.9,162.9 403.1,164.1 403.3,165.3 403.5,166.6 403.7,167.8 404.0,169.0 404.2,170.3 404.4,171.5 404.6,172.7 404.9,173.9 405.1,175.2 405.3,176.4 405.6,177.6 405.8,178.9 406.1,180.1 406.3,181.3 406.6,182.5 406.8,183.8 407.1,185.0 407.4,186.2 407.6,187.4 407.9,188.7 408.2,189.9 408.5,191.1 408.7,192.3 409.0,193.6 409.3,194.8 409.6,196.0 409.9,197.2 410.2,198.5 410.5,199.7 410.8,200.9 411.1,202.1 411.4,203.3 411.7,204.5 412.1,205.7 412.4,206.9 412.8,208.1 413.2,209.3 413.6,210.5 414.0,211.7 414.4,212.9 414.8,214.1 415.2,215.2 415.7,216.4 416.2,217.6 416.7,218.7 417.2,219.9 417.7,221.0 418.3,222.1 418.8,223.2 419.4,224.3 420.0,225.4 420.6,226.5 421.3,227.6 421.9,228.7 422.6,229.7 423.3,230.8 424.0,231.8 424.8,232.8 425.5,233.8 426.3,234.8 427.1,235.8 427.9,236.8 428.7,237.7 429.6,238.7 430.5,239.6 431.4,240.5 432.3,241.4 433.2,242.2 434.1,243.1 435.1,243.9 436.1,244.7 437.1,245.4 438.1,246.2 439.1,246.8 440.2,247.6 441.2,248.2 442.3,248.8 443.4,249.3 444.5,249.9 445.6,250.5 446.8,250.9 447.9,251.5 449.1,251.7 450.2,251.9 451.4,252.5 452.6,252.7 453.8,253.3 455.0,253.8 456.2,254.0 457.5,253.9 458.7,254.3 459.9,255.1 461.2,255.0 462.4,255.1 463.7,255.6 464.9,256.1 466.2,256.0 467.5,255.9 468.7,256.1 470.0,256.3 471.3,256.0 472.5,256.0 473.8,256.5 475.0,256.3 476.3,256.8 477.6,257.0 478.8,258.0 480.1,256.8 481.3,257.3 482.6,257.4 483.8,257.8 485.1,258.2 486.3,257.6 487.6,257.6 488.8,257.3 490.0,257.7 491.3,258.6 492.5,258.5 493.8,258.0 495.0,258.5 496.2,258.8 497.5,259.2 498.7,258.7 499.9,259.0 501.2,258.2 502.4,258.7 503.7,260.3 504.9,258.3 506.1,259.4 507.4,259.8 508.6,259.5 509.9,259.4 511.1,259.9 512.4,260.0 513.6,260.0 514.9,259.1 516.1,260.1 517.4,259.8 518.6,260.0 519.9,260.4 521.2,260.7 522.4,260.9 523.7,260.2 525.0,261.0 526.2,261.1 527.5,261.1" stroke="#ff0000"/>
<path d="M318.5,67.5 319.0,68.7 319.5,69.9 320.0,71.0 320.5,72.2 321.0,73.3 321.5,74.4 322.1,75.6 322.6,76.7 323.2,77.8 323.8,78.9 324.4,80.0 325.0,81.0 325.7,82.1 326.3,83.2 327.0,84.2 327.7,85.2 328.4,86.3 329.2,87.3 329.9,88.3 330.7,89.3 331.5,90.3 332.4,91.3 333.2,92.2 334.1,93.2 335.0,94.1 336.0,94.9 337.0,95.6 338.0,96.3 339.2,96.7 340.3,97.1 341.5,97.2 342.8,97.1 344.1,96.8 345.3,96.4 346.4,95.8 347.4,95.0 348.3,94.2 349.2,93.2 350.0,92.2 350.8,91.2 351.5,90.2 352.3,89.1 353.0,88.1 353.6,87.0 354.3,85.9 354.9,84.9 355.4,83.7 356.0,82.6 356.5,81.5 356.9,80.3 357.4,79.2 357.8,78.0 358.2,76.8 358.5,75.6 358.9,74.4 359.2,73.2 359.5,71.9 359.8,70.7 360.1,69.5 360.4,68.3 360.7,67.0 361.0,65.8 361.4,64.6 361.7,63.4 362.0,62.1 362.4,60.9 362.7,59.7 363.1,58.5 363.4,57.3 363.7,56.1 364.1,54.9 364.4,53.7 364.7,52.5 365.0,51.3 365.3,50.1 365.6,48.8 365.9,47.6 366.1,46.4 366.3,45.2 366.6,43.9 366.8,42.7 367.0,41.4 367.2,40.2 367.4,39.0 367.7,37.7 367.9,36.5 368.1,35.2 368.3,34.0 368.5,32.8 368.8,31.5 369.0,30.3 369.3,29.1 369.5,27.8 369.8,26.6 370.0,25.4 370.3,24.1 370.5,22.9 370.8,21.7 371.1,20.5 371.3,19.2 371.6,18.0 371.8,16.8 372.0,15.6 372.3,14.4 372.6,13.2 372.8,11.9 373.1,10.6 373.5,9.3 373.9,8.0 374.3,6.7 374.8,5.8 375.3,5.8 375.9,6.6 376.4,7.8 376.8,9.2 377.2,10.5 377.6,11.7 377.9,13.0 378.2,14.2 378.5,15.4 378.7,16.6 379.0,17.9 379.2,19.1 379.5,20.3 379.7,21.5 379.9,22.7 380.2,24.0 380.4,25.2 380.6,26.4 380.8,27.7 381.1,28.9 381.3,30.1 381.5,31.4 381.7,32.6 381.9,33.9 382.1,35.1 382.3,36.3 382.5,37.6 382.7,38.8 382.9,40.1 383.1,41.3 383.3,42.6 383.4,43.8 383.6,45.0 383.8,46.3 384.0,47.5 384.2,48.8 384.3,50.0 384.5,51.3 384.7,52.5 384.8,53.8 385.0,55.0 385.2,56.2 385.3,57.5 385.5,58.7 385.6,60.0 385.8,61.2 385.9,62.5 386.1,63.7 386.2,65.0 386.4,66.2 386.5,67.5 386.7,68.7 386.8,70.0 387.0,71.2 387.1,72.5 387.3,73.7 387.4,74.9 387.5,76.2 387.7,77.4 387.8,78.7 388.0,79.9 388.1,81.2 388.2,82.4 388.4,83.7 388.5,84.9 388.7,86.2 388.8,87.4 388.9,88.7 389.1,89.9 389.2,91.2 389.3,92.4 389.5,93.7 389.6,94.9 389.7,96.2 389.9,97.4 390.0,98.7 390.2,99.9 390.3,101.2 390.4,102.4 390.6,103.7 390.7,104.9 390.9,106.2 391.0,107.4 391.1,108.6 391.3,109.9 391.4,111.1 391.6,112.4 391.7,113.6 391.9,114.9 392.0,116.1 392.2,117.4 392.3,118.6 392.5,119.9 392.6,121.1 392.8,122.4 392.9,123.6 393.1,124.9 393.3,126.1 393.4,127.3 393.6,128.6 393.7,129.8 393.9,131.1 394.1,132.3 394.3,133.6 394.4,134.8 394.6,136.0 394.8,137.3 395.0,138.5 395.1,139.8 395.3,141.0 395.5,142.3 395.7,143.5 395.9,144.7 396.1,146.0 396.3,147.2 396.5,148.5 396.7,149.7 396.9,150.9 397.1,152.2 397.3,153.4 397.5,154.6 397.8,155.9 398.0,157.1 398.2,158.4 398.4,159.6 398.7,160.8 398.9,162.1 399.1,163.3 399.4,164.5 399.6,165.7 399.9,167.0 400.1,168.2 400.4,169.4 400.7,170.7 400.9,171.9 401.2,173.1 401.5,174.3 401.7,175.6 402.0,176.8 402.3,178.0 402.6,179.2 402.9,180.5 403.2,181.7 403.5,182.9 403.8,184.1 404.1,185.3 404.4,186.6 404.7,187.8 405.0,189.0 405.4,190.2 405.7,191.4 406.0,192.6 406.4,193.8 406.7,195.1 407.1,196.3 407.4,197.5 407.8,198.7 408.1,199.9 408.5,201.1 408.9,202.3 409.3,203.5 409.7,204.7 410.1,205.9 410.5,207.1 410.9,208.2 411.4,209.4 411.8,210.6 412.3,211.8 412.7,212.9 413.2,214.1 413.7,215.3 414.2,216.4 414.7,217.5 415.3,218.7 415.8,219.8 416.4,220.9 416.9,222.0 417.5,223.1 418.1,224.2 418.7,225.3 419.4,226.4 420.0,227.5 420.7,228.5 421.4,229.6 422.1,230.6 422.8,231.7 423.5,232.7 424.3,233.7 425.1,234.7 425.9,235.7 426.7,236.6 427.5,237.6 428.3,238.5 429.2,239.4 430.1,240.3 431.0,241.2 431.9,242.0 432.8,242.9 433.8,243.7 434.8,244.5 435.8,245.3 436.8,246.0 437.8,246.8 438.9,247.5 439.9,248.2 441.0,248.9 442.1,249.5 443.2,250.0 444.3,250.6 445.5,251.0 446.7,251.5 447.8,251.9 449.0,252.4 450.2,252.8 451.4,253.1 452.6,253.1 453.9,254.0 455.1,254.0 456.3,254.2 457.6,254.2 458.8,254.4 460.1,254.8 461.3,255.0 462.5,254.6 463.8,255.5 465.0,256.3 466.3,255.2 467.5,256.3 468.7,256.3 470.0,256.3 471.2,257.1 472.4,256.4 473.7,257.1 474.9,257.8 476.2,257.3 477.4,257.4 478.6,257.8 479.9,257.7 481.1,258.7 482.4,257.8 483.6,258.8 484.9,257.9 486.1,258.9 487.4,258.7 488.6,257.6 489.9,259.0 491.1,258.5 492.4,258.9 493.6,260.1 494.9,258.7 496.1,258.9 497.4,260.4 498.6,259.7 499.9,260.6 501.2,260.0 502.4,259.3 503.7,259.9 504.9,260.7 506.2,260.6 507.4,260.1 508.7,260.2 510.0,260.1 511.2,259.9 512.5,261.4 513.7,260.4 515.0,259.8 516.2,260.2 517.5,260.9 518.7,260.9 520.0,260.6 521.2,260.3 522.5,260.8 523.8,259.9 525.0,260.1 526.3,261.4 527.5,260.7" stroke="#ff1a1a"/>
<path d="M318.5,131.0 319.0,132.2 319.6,133.4 320.2,134.4 320.9,135.5 321.6,136.4 322.4,137.4 323.2,138.3 324.1,139.2 325.1,140.0 326.1,140.8 327.2,141.6 328.4,142.1 329.5,142.4 330.7,142.3 331.9,142.0 333.0,141.5 334.1,140.9 335.1,140.2 336.2,139.5 337.1,138.7 338.1,137.8 338.9,136.9 339.8,135.9 340.6,134.9 341.3,133.8 341.9,132.8 342.5,131.7 343.1,130.5 343.6,129.4 344.0,128.2 344.4,127.1 344.8,125.9 345.2,124.7 345.6,123.5 345.9,122.3 346.3,121.1 346.6,119.9 347.0,118.7 347.4,117.5 347.7,116.3 348.1,115.1 348.5,113.9 348.9,112.7 349.2,111.5 349.6,110.3 350.0,109.1 350.4,107.9 350.8,106.7 351.1,105.5 351.5,104.3 351.8,103.1 352.1,101.9 352.5,100.7 352.8,99.4 353.1,98.2 353.3,97.0 353.6,95.8 353.8,94.5 354.1,93.3 354.3,92.1 354.5,90.8 354.7,89.6 355.0,88.4 355.1,87.1 355.3,85.9 355.5,84.6 355.7,83.4 355.9,82.1 356.0,80.9 356.2,79.7 356.4,78.4 356.5,77.2 356.7,75.9 356.9,74.7 357.0,73.4 357.2,72.2 357.3,71.0 357.5,69.7 357.7,68.5 357.8,67.2 358.0,66.0 358.1,64.8 358.3,63.5 358.4,62.3 358.6,61.0 358.8,59.8 358.9,58.5 359.1,57.3 359.3,56.1 359.4,54.8 359.6,53.6 359.8,52.3 359.9,51.1 360.1,49.8 360.3,48.6 360.5,47.3 360.6,46.1 360.8,44.8 361.0,43.6 361.2,42.4 361.4,41.1 361.6,39.9 361.8,38.6 362.0,37.4 362.2,36.1 362.4,34.9 362.6,33.6 362.8,32.4 363.0,31.2 363.2,29.9 363.4,28.7 363.6,27.5 363.8,26.2 364.0,25.0 364.2,23.8 364.4,22.5 364.6,21.3 364.8,20.1 365.0,18.9 365.2,17.7 365.4,16.5 365.6,15.2 365.9,14.0 366.1,12.8 366.4,11.5 366.7,10.2 367.0,8.8 367.4,7.4 367.8,6.2 368.3,5.6 368.8,6.0 369.3,7.1 369.8,8.5 370.2,9.8 370.5,11.1 370.8,12.4 371.1,13.6 371.4,14.8 371.6,16.0 371.8,17.2 372.1,18.3 372.3,19.5 372.5,20.8 372.8,22.0 373.0,23.2 373.2,24.4 373.5,25.7 373.7,26.9 373.9,28.2 374.1,29.4 374.4,30.7 374.6,31.9 374.8,33.2 375.0,34.4 375.3,35.7 375.5,36.9 375.7,38.2 375.9,39.4 376.1,40.6 376.3,41.9 376.5,43.1 376.7,44.3 376.9,45.6 377.0,46.8 377.2,48.1 377.4,49.3 377.5,50.5 377.7,51.8 377.8,53.0 378.0,54.3 378.1,55.5 378.2,56.8 378.4,58.0 378.5,59.3 378.6,60.5 378.7,61.8 378.8,63.0 378.9,64.3 379.0,65.5 379.1,66.8 379.2,68.0 379.3,69.3 379.3,70.5 379.4,71.8 379.5,73.0 379.6,74.3 379.6,75.5 379.7,76.8 379.8,78.0 379.8,79.3 379.9,80.6 380.0,81.8 380.0,83.1 380.1,84.3 380.1,85.6 380.2,86.8 380.3,88.1 380.3,89.3 380.4,90.6 380.5,91.8 380.5,93.1 380.6,94.4 380.6,95.6 380.7,96.9 380.8,98.1 380.8,99.4 380.9,100.6 381.0,101.9 381.0,103.1 381.1,104.4 381.2,105.6 381.2,106.9 381.3,108.1 381.4,109.4 381.4,110.7 381.5,111.9 381.6,113.2 381.7,114.4 381.8,115.7 381.9,116.9 381.9,118.2 382.0,119.4 382.1,120.7 382.2,121.9 382.3,123.2 382.4,124.4 382.5,125.7 382.6,126.9 382.7,128.2 382.8,129.4 383.0,130.6 383.1,131.9 383.2,133.1 383.3,134.4 383.5,135.6 383.6,136.9 383.7,138.1 383.9,139.4 384.0,140.6 384.1,141.9 384.3,143.1 384.4,144.3 384.6,145.6 384.7,146.8 384.9,148.1 385.0,149.3 385.2,150.6 385.3,151.8 385.5,153.1 385.6,154.3 385.8,155.5 386.0,156.8 386.1,158.0 386.3,159.3 386.5,160.5 386.6,161.8 386.8,163.0 387.0,164.3 387.1,165.5 387.3,166.8 387.5,168.0 387.6,169.2 387.8,170.5 388.0,171.7 388.1,173.0 388.3,174.2 388.5,175.5 388.7,176.7 388.8,178.0 389.0,179.2 389.2,180.5 389.4,181.7 389.6,183.0 389.8,184.2 390.0,185.5 390.2,186.7 390.4,187.9 390.6,189.2 390.8,190.4 391.1,191.6 391.3,192.9 391.5,194.1 391.8,195.3 392.1,196.6 392.3,197.8 392.6,199.0 392.9,200.2 393.2,201.4 393.6,202.6 393.9,203.9 394.2,205.1 394.6,206.3 395.0,207.4 395.3,208.6 395.7,209.8 396.2,211.0 396.6,212.2 397.0,213.3 397.5,214.5 398.0,215.7 398.5,216.8 399.0,218.0 399.5,219.1 400.1,220.3 400.7,221.4 401.2,222.5 401.8,223.6 402.5,224.7 403.1,225.8 403.8,226.9 404.5,227.9 405.2,229.0 405.9,230.0 406.6,231.0 407.4,232.0 408.1,233.0 408.9,234.0 409.8,234.9 410.6,235.9 411.4,236.8 412.3,237.7 413.2,238.5 414.1,239.4 415.1,240.2 416.0,241.1 417.0,241.8 418.0,242.6 419.1,243.3 420.1,244.0 421.2,244.7 422.3,245.4 423.4,245.9 424.5,246.5 425.6,247.0 426.8,247.4 428.0,247.8 429.2,248.2 430.4,248.5 431.6,248.8 432.9,249.1 434.1,249.4 435.3,249.7 436.5,249.9 437.8,250.2 439.0,250.5 440.2,250.8 441.5,250.9 442.7,251.2 443.9,251.3 445.2,251.7 446.4,251.9 447.6,252.1 448.9,252.3 450.1,252.5 451.3,252.7 452.6,253.1 453.8,253.5 455.0,253.1 456.3,253.6 457.5,253.8 458.8,254.1 460.0,254.0 461.2,254.4 462.5,254.3 463.7,255.0 465.0,255.0 466.2,255.1 467.4,255.4 468.7,255.4 469.9,255.1 471.2,256.0 472.4,256.0 473.7,256.0 474.9,256.6 476.2,256.8 477.4,256.1 478.7,256.4 479.9,257.4 481.2,257.5 482.4,256.8 483.6,256.7 484.9,257.0 486.1,257.2 487.4,256.8 488.6,257.7 489.9,257.2 491.1,257.3 492.4,258.5 493.7,257.8 494.9,258.2 496.2,258.7 497.4,258.9 498.7,258.3 499.9,258.6 501.2,258.2 502.4,259.7 503.7,259.2 504.9,258.3 506.2,259.0 507.4,259.4 508.7,259.4 509.9,260.2 511.2,260.0 512.4,259.0 513.7,259.3 515.0,258.7 516.2,259.5 517.5,259.5 518.7,261.0 520.0,259.6 521.2,258.4 522.5,259.2 523.7,259.6 525.0,258.9 526.2,259.1 527.5,259.4" stroke="#ff3a10"/>
<path d="M318.5,153.0 318.7,154.1 319.3,155.2 320.0,156.3 320.9,157.4 322.0,158.3 323.1,158.8 324.3,159.1 325.5,158.9 326.6,158.3 327.7,157.6 328.7,156.7 329.6,155.8 330.4,154.8 331.1,153.8 331.8,152.7 332.4,151.6 333.0,150.5 333.5,149.4 334.0,148.3 334.5,147.1 335.1,146.0 335.6,144.8 336.1,143.7 336.6,142.5 337.1,141.4 337.6,140.2 338.1,139.1 338.6,137.9 339.1,136.8 339.6,135.6 340.0,134.4 340.4,133.2 340.8,132.1 341.2,130.9 341.6,129.7 341.9,128.5 342.2,127.2 342.5,126.0 342.8,124.8 343.1,123.6 343.3,122.3 343.6,121.1 343.9,119.9 344.1,118.7 344.3,117.4 344.6,116.2 344.8,115.0 345.1,113.7 345.3,112.5 345.5,111.3 345.7,110.0 345.9,108.8 346.1,107.5 346.3,106.3 346.5,105.1 346.7,103.8 346.9,102.6 347.1,101.4 347.3,100.1 347.5,98.9 347.7,97.6 347.9,96.4 348.1,95.2 348.3,93.9 348.4,92.7 348.6,91.4 348.7,90.2 348.9,88.9 349.0,87.7 349.1,86.4 349.2,85.2 349.3,83.9 349.4,82.7 349.5,81.4 349.6,80.2 349.7,78.9 349.8,77.7 349.9,76.4 350.0,75.1 350.1,73.9 350.2,72.6 350.3,71.4 350.4,70.1 350.5,68.9 350.7,67.6 350.8,66.4 351.0,65.2 351.1,63.9 351.3,62.7 351.5,61.5 351.7,60.2 352.0,59.0 352.2,57.8 352.4,56.5 352.6,55.3 352.9,54.1 353.1,52.8 353.4,51.6 353.6,50.4 353.8,49.1 354.0,47.9 354.3,46.7 354.5,45.4 354.7,44.2 354.9,42.9 355.1,41.7 355.3,40.4 355.5,39.2 355.7,38.0 355.9,36.7 356.1,35.5 356.3,34.2 356.5,33.0 356.6,31.7 356.8,30.5 357.0,29.2 357.2,28.0 357.3,26.8 357.5,25.5 357.7,24.3 357.9,23.1 358.0,21.8 358.2,20.6 358.4,19.4 358.5,18.1 358.7,16.9 358.9,15.7 359.1,14.5 359.3,13.3 359.5,12.0 359.8,10.7 360.1,9.4 360.5,8.0 360.9,6.7 361.4,5.8 361.9,5.7 362.4,6.6 362.9,7.9 363.3,9.3 363.7,10.6 364.0,11.9 364.3,13.1 364.6,14.3 364.8,15.5 365.0,16.7 365.2,17.9 365.4,19.1 365.6,20.3 365.8,21.5 366.1,22.8 366.3,24.0 366.5,25.2 366.7,26.5 366.9,27.7 367.1,29.0 367.3,30.2 367.4,31.5 367.6,32.7 367.8,34.0 368.0,35.2 368.1,36.5 368.3,37.8 368.5,39.0 368.6,40.3 368.8,41.5 368.9,42.7 369.0,44.0 369.2,45.2 369.3,46.5 369.4,47.7 369.6,49.0 369.7,50.2 369.8,51.5 369.9,52.7 370.0,54.0 370.2,55.2 370.3,56.4 370.4,57.7 370.5,58.9 370.6,60.2 370.7,61.4 370.8,62.7 370.9,63.9 371.0,65.2 371.1,66.4 371.3,67.7 371.4,68.9 371.5,70.2 371.6,71.4 371.7,72.7 371.8,73.9 371.9,75.2 372.0,76.4 372.1,77.7 372.2,79.0 372.3,80.2 372.4,81.5 372.5,82.7 372.6,84.0 372.8,85.2 372.9,86.5 373.0,87.7 373.1,89.0 373.2,90.2 373.3,91.5 373.4,92.7 373.5,94.0 373.6,95.2 373.7,96.4 373.8,97.7 373.9,98.9 374.0,100.2 374.1,101.4 374.2,102.7 374.3,103.9 374.4,105.2 374.5,106.4 374.6,107.7 374.7,108.9 374.9,110.2 375.0,111.4 375.1,112.7 375.2,113.9 375.3,115.2 375.4,116.4 375.5,117.7 375.6,118.9 375.7,120.2 375.9,121.4 376.0,122.7 376.1,123.9 376.2,125.2 376.3,126.4 376.4,127.7 376.6,128.9 376.7,130.2 376.8,131.4 376.9,132.7 377.0,134.0 377.2,135.2 377.3,136.5 377.4,137.7 377.6,139.0 377.7,140.2 377.9,141.5 378.0,142.7 378.1,144.0 378.3,145.2 378.5,146.5 378.6,147.7 378.8,149.0 378.9,150.2 379.1,151.5 379.3,152.7 379.5,154.0 379.7,155.2 379.9,156.5 380.1,157.7 380.3,158.9 380.5,160.2 380.7,161.4 380.9,162.7 381.2,163.9 381.4,165.1 381.6,166.3 381.9,167.6 382.2,168.8 382.4,170.0 382.7,171.2 383.0,172.5 383.3,173.7 383.6,174.9 383.9,176.1 384.2,177.3 384.5,178.5 384.9,179.7 385.2,180.9 385.6,182.1 385.9,183.3 386.3,184.5 386.7,185.7 387.1,186.9 387.5,188.0 387.9,189.2 388.3,190.4 388.8,191.6 389.2,192.7 389.7,193.9 390.1,195.0 390.6,196.2 391.1,197.3 391.6,198.5 392.1,199.6 392.7,200.8 393.2,201.9 393.8,203.0 394.4,204.1 394.9,205.3 395.5,206.4 396.2,207.5 396.8,208.6 397.4,209.7 398.1,210.8 398.7,211.9 399.4,213.0 400.1,214.0 400.9,215.1 401.6,216.1 402.4,217.1 403.2,218.1 404.0,219.0 404.8,219.9 405.7,220.8 406.6,221.7 407.5,222.5 408.5,223.3 409.4,224.1 410.4,224.9 411.3,225.7 412.3,226.5 413.3,227.3 414.2,228.1 415.2,228.9 416.2,229.6 417.2,230.4 418.2,231.1 419.2,231.9 420.3,232.6 421.3,233.3 422.3,234.1 423.4,234.8 424.4,235.5 425.5,236.1 426.5,236.8 427.6,237.5 428.7,238.1 429.8,238.7 430.9,239.3 432.0,239.9 433.1,240.5 434.2,241.1 435.4,241.6 436.5,242.2 437.6,242.7 438.8,243.2 439.9,243.7 441.1,244.2 442.3,244.6 443.4,245.0 444.6,245.4 445.8,245.9 447.0,246.1 448.2,246.8 449.4,247.2 450.6,247.8 451.8,247.9 453.0,248.0 454.2,248.2 455.4,248.0 456.6,248.9 457.9,249.2 459.1,249.7 460.3,249.9 461.5,250.2 462.8,250.3 464.0,250.7 465.2,251.2 466.5,250.7 467.7,251.1 468.9,251.0 470.2,252.2 471.4,252.3 472.7,252.3 473.9,251.9 475.1,252.6 476.4,252.7 477.6,253.0 478.8,253.1 480.1,253.6 481.3,253.5 482.5,254.2 483.8,254.2 485.0,254.1 486.3,254.4 487.5,254.5 488.7,255.3 490.0,254.9 491.2,255.4 492.4,255.2 493.7,254.8 494.9,256.2 496.2,255.3 497.4,256.4 498.7,256.4 499.9,255.3 501.2,255.8 502.4,256.2 503.7,256.1 504.9,256.0 506.2,257.1 507.4,256.7 508.7,257.1 510.0,256.7 511.2,257.2 512.5,256.7 513.7,257.1 515.0,257.5 516.2,257.3 517.5,257.1 518.7,256.8 520.0,257.5 521.2,257.7 522.5,257.4 523.8,257.2 525.0,258.0 526.3,259.1 527.5,257.6" stroke="#ff7800"/>
<path d="M318.5,187.5 318.9,188.6 319.2,189.8 319.6,191.1 320.0,192.4 320.6,193.6 321.4,194.5 322.5,195.0 323.6,195.0 324.6,194.5 325.4,193.5 326.1,192.5 326.8,191.4 327.4,190.2 328.0,189.1 328.6,188.0 329.2,186.9 329.8,185.7 330.3,184.6 330.8,183.4 331.3,182.3 331.8,181.1 332.2,179.9 332.7,178.8 333.1,177.6 333.5,176.4 333.8,175.2 334.2,174.0 334.6,172.8 334.9,171.6 335.2,170.4 335.5,169.2 335.8,168.0 336.1,166.8 336.3,165.5 336.6,164.3 336.9,163.1 337.1,161.9 337.3,160.6 337.5,159.4 337.8,158.2 338.0,156.9 338.2,155.7 338.4,154.4 338.6,153.2 338.8,152.0 339.0,150.7 339.1,149.5 339.3,148.2 339.5,147.0 339.7,145.7 339.9,144.5 340.1,143.3 340.3,142.0 340.5,140.8 340.7,139.5 340.9,138.3 341.1,137.1 341.3,135.8 341.5,134.6 341.7,133.3 341.9,132.1 342.1,130.9 342.3,129.6 342.5,128.4 342.7,127.2 342.9,125.9 343.1,124.7 343.2,123.5 343.4,122.2 343.5,121.0 343.7,119.7 343.8,118.5 343.9,117.2 344.0,116.0 344.1,114.7 344.2,113.5 344.3,112.2 344.4,111.0 344.4,109.7 344.5,108.4 344.6,107.2 344.7,105.9 344.8,104.7 344.9,103.4 345.0,102.2 345.2,100.9 345.3,99.7 345.5,98.4 345.7,97.2 345.9,96.0 346.1,94.7 346.2,93.5 346.4,92.3 346.6,91.0 346.8,89.8 347.0,88.5 347.1,87.3 347.2,86.0 347.4,84.8 347.5,83.5 347.6,82.3 347.6,81.0 347.7,79.8 347.8,78.5 347.9,77.3 347.9,76.0 348.0,74.8 348.0,73.5 348.1,72.2 348.2,71.0 348.2,69.7 348.3,68.5 348.4,67.2 348.4,66.0 348.5,64.7 348.6,63.5 348.7,62.2 348.8,61.0 348.9,59.7 349.0,58.5 349.1,57.2 349.3,56.0 349.4,54.8 349.5,53.5 349.7,52.3 349.8,51.0 350.0,49.8 350.1,48.5 350.3,47.3 350.5,46.1 350.7,44.8 350.9,43.6 351.0,42.3 351.2,41.1 351.4,39.8 351.6,38.6 351.8,37.3 352.0,36.1 352.2,34.8 352.4,33.6 352.6,32.3 352.8,31.1 353.0,29.9 353.2,28.6 353.4,27.4 353.6,26.1 353.8,24.9 353.9,23.7 354.1,22.4 354.3,21.2 354.4,20.0 354.5,18.7 354.7,17.5 354.8,16.3 354.9,15.1 355.0,13.8 355.2,12.6 355.4,11.3 355.7,10.0 356.0,8.6 356.4,7.2 356.8,6.1 357.3,5.7 357.8,6.1 358.2,7.3 358.6,8.7 359.0,10.0 359.3,11.3 359.5,12.6 359.7,13.9 359.9,15.1 360.1,16.4 360.3,17.6 360.5,18.8 360.6,20.1 360.8,21.3 361.0,22.5 361.2,23.8 361.4,25.0 361.5,26.2 361.7,27.5 361.9,28.7 362.0,29.9 362.2,31.2 362.4,32.4 362.5,33.6 362.7,34.9 362.9,36.1 363.0,37.4 363.2,38.6 363.4,39.9 363.5,41.1 363.7,42.3 363.8,43.6 364.0,44.8 364.1,46.1 364.3,47.3 364.4,48.6 364.6,49.8 364.7,51.0 364.9,52.3 365.0,53.5 365.2,54.8 365.3,56.0 365.5,57.3 365.6,58.5 365.7,59.8 365.9,61.0 366.0,62.3 366.1,63.5 366.3,64.8 366.4,66.0 366.5,67.3 366.7,68.5 366.8,69.8 366.9,71.0 367.0,72.3 367.2,73.5 367.3,74.8 367.4,76.0 367.5,77.3 367.6,78.5 367.7,79.8 367.9,81.0 368.0,82.3 368.1,83.5 368.2,84.8 368.3,86.0 368.4,87.3 368.5,88.5 368.6,89.8 368.7,91.0 368.8,92.3 368.9,93.5 369.0,94.8 369.0,96.0 369.1,97.3 369.2,98.6 369.3,99.8 369.4,101.1 369.5,102.3 369.5,103.6 369.6,104.8 369.7,106.1 369.8,107.3 369.8,108.6 369.9,109.8 370.0,111.1 370.0,112.3 370.1,113.6 370.1,114.8 370.2,116.1 370.3,117.3 370.4,118.6 370.4,119.8 370.5,121.1 370.6,122.3 370.7,123.6 370.8,124.8 371.0,126.1 371.1,127.3 371.3,128.6 371.4,129.8 371.6,131.0 371.8,132.3 372.0,133.5 372.1,134.8 372.3,136.0 372.5,137.3 372.7,138.5 372.9,139.8 373.0,141.0 373.2,142.2 373.4,143.5 373.5,144.7 373.7,146.0 373.8,147.2 373.9,148.5 374.1,149.7 374.2,151.0 374.3,152.2 374.4,153.4 374.5,154.7 374.7,155.9 374.8,157.2 374.9,158.4 375.0,159.7 375.1,160.9 375.3,162.2 375.4,163.4 375.5,164.7 375.6,165.9 375.8,167.2 375.9,168.4 376.0,169.7 376.2,170.9 376.3,172.2 376.5,173.4 376.6,174.7 376.8,175.9 377.0,177.2 377.1,178.4 377.3,179.7 377.5,180.9 377.7,182.2 377.9,183.4 378.1,184.6 378.3,185.9 378.5,187.1 378.7,188.4 378.9,189.6 379.1,190.8 379.4,192.1 379.6,193.3 379.9,194.5 380.2,195.7 380.4,197.0 380.7,198.2 381.0,199.4 381.3,200.6 381.6,201.8 381.9,203.0 382.2,204.3 382.6,205.5 382.9,206.7 383.3,207.9 383.7,209.1 384.0,210.2 384.4,211.4 384.8,212.6 385.2,213.8 385.7,215.0 386.1,216.2 386.6,217.3 387.0,218.5 387.5,219.6 388.0,220.8 388.5,222.0 389.0,223.1 389.6,224.2 390.1,225.4 390.7,226.5 391.2,227.6 391.8,228.7 392.5,229.8 393.1,230.9 393.7,232.0 394.4,233.1 395.1,234.1 395.8,235.2 396.5,236.2 397.2,237.2 398.0,238.3 398.7,239.3 399.5,240.3 400.3,241.2 401.2,242.2 402.0,243.1 402.9,244.0 403.8,244.9 404.8,245.7 405.7,246.5 406.7,247.2 407.7,247.9 408.8,248.6 409.8,249.3 410.9,249.9 412.0,250.4 413.2,251.0 414.3,251.5 415.5,252.0 416.6,252.5 417.8,252.9 419.0,253.3 420.2,253.7 421.4,254.1 422.7,254.4 423.9,254.7 425.1,255.0 426.3,255.3 427.6,255.6 428.8,255.9 430.0,256.1 431.3,256.3 432.5,256.6 433.7,256.8 435.0,257.0 436.2,257.2 437.4,257.4 438.7,257.5 439.9,257.6 441.2,257.8 442.4,257.9 443.6,258.2 444.9,258.4 446.1,258.5 447.4,258.6 448.6,258.8 449.9,258.8 451.1,259.1 452.4,259.2 453.6,259.9 454.8,259.7 456.1,259.5 457.3,259.6 458.6,259.9 459.8,259.7 461.1,260.0 462.3,260.2 463.6,260.7 464.8,260.5 466.1,260.5 467.3,260.4 468.6,260.6 469.8,261.0 471.1,261.1 472.3,261.6 473.6,261.1 474.8,261.8 476.1,261.6 477.3,261.6 478.6,260.9 479.8,261.3 481.1,262.2 482.3,262.5 483.6,262.1 484.8,262.4 486.1,261.9 487.4,262.0 488.6,261.9 489.9,262.7 491.1,262.5 492.4,262.2 493.6,262.2 494.9,262.7 496.1,262.6 497.4,261.9 498.6,263.4 499.9,262.6 501.2,262.4 502.4,263.2 503.7,263.0 504.9,262.4 506.2,262.7 507.4,261.9 508.7,262.1 509.9,261.2 511.2,263.1 512.4,261.4 513.7,262.8 515.0,262.0 516.2,261.9 517.5,262.4 518.7,262.6 520.0,262.8 521.2,263.5 522.5,262.7 523.7,263.1 525.0,262.3 526.2,263.1 527.5,262.8" stroke="#ffc000"/>
</g>
<line x1="353.5" y1="265.2" x2="353.5" y2="261.1" stroke="#000" stroke-width="1.6" stroke-linecap="butt"/>
<line x1="353.5" y1="3.45" x2="353.5" y2="6.4" stroke="#000" stroke-width="1.6" stroke-linecap="butt"/>
<line x1="388.5" y1="265.2" x2="388.5" y2="261.1" stroke="#000" stroke-width="1.6" stroke-linecap="butt"/>
<line x1="388.5" y1="3.45" x2="388.5" y2="6.4" stroke="#000" stroke-width="1.6" stroke-linecap="butt"/>
<line x1="423.5" y1="265.2" x2="423.5" y2="261.1" stroke="#000" stroke-width="1.6" stroke-linecap="butt"/>
<line x1="423.5" y1="3.45" x2="423.5" y2="6.4" stroke="#000" stroke-width="1.6" stroke-linecap="butt"/>
<line x1="458.5" y1="265.2" x2="458.5" y2="261.1" stroke="#000" stroke-width="1.6" stroke-linecap="butt"/>
<line x1="458.5" y1="3.45" x2="458.5" y2="6.4" stroke="#000" stroke-width="1.6" stroke-linecap="butt"/>
<line x1="493.5" y1="265.2" x2="493.5" y2="261.1" stroke="#000" stroke-width="1.6" stroke-linecap="butt"/>
<line x1="493.5" y1="3.45" x2="493.5" y2="6.4" stroke="#000" stroke-width="1.6" stroke-linecap="butt"/>
<line x1="336" y1="265.2" x2="336" y2="263.1" stroke="#000" stroke-width="1.6" stroke-linecap="butt"/>
<line x1="336" y1="3.45" x2="336" y2="5.5" stroke="#000" stroke-width="1.6" stroke-linecap="butt"/>
<line x1="371" y1="265.2" x2="371" y2="263.1" stroke="#000" stroke-width="1.6" stroke-linecap="butt"/>
<line x1="371" y1="3.45" x2="371" y2="5.5" stroke="#000" stroke-width="1.6" stroke-linecap="butt"/>
<line x1="406" y1="265.2" x2="406" y2="263.1" stroke="#000" stroke-width="1.6" stroke-linecap="butt"/>
<line x1="406" y1="3.45" x2="406" y2="5.5" stroke="#000" stroke-width="1.6" stroke-linecap="butt"/>
<line x1="441" y1="265.2" x2="441" y2="263.1" stroke="#000" stroke-width="1.6" stroke-linecap="butt"/>
<line x1="441" y1="3.45" x2="441" y2="5.5" stroke="#000" stroke-width="1.6" stroke-linecap="butt"/>
<line x1="476" y1="265.2" x2="476" y2="263.1" stroke="#000" stroke-width="1.6" stroke-linecap="butt"/>
<line x1="476" y1="3.45" x2="476" y2="5.5" stroke="#000" stroke-width="1.6" stroke-linecap="butt"/>
<line x1="511" y1="265.2" x2="511" y2="263.1" stroke="#000" stroke-width="1.6" stroke-linecap="butt"/>
<line x1="511" y1="3.45" x2="511" y2="5.5" stroke="#000" stroke-width="1.6" stroke-linecap="butt"/>
<line x1="318.45" y1="265.2" x2="322.05" y2="265.2" stroke="#000" stroke-width="1.6" stroke-linecap="butt"/>
<line x1="528.5" y1="265.2" x2="524.9" y2="265.2" stroke="#000" stroke-width="1.6" stroke-linecap="butt"/>
<line x1="318.45" y1="213.2" x2="322.05" y2="213.2" stroke="#000" stroke-width="1.6" stroke-linecap="butt"/>
<line x1="528.5" y1="213.2" x2="524.9" y2="213.2" stroke="#000" stroke-width="1.6" stroke-linecap="butt"/>
<line x1="318.45" y1="161.2" x2="322.05" y2="161.2" stroke="#000" stroke-width="1.6" stroke-linecap="butt"/>
<line x1="528.5" y1="161.2" x2="524.9" y2="161.2" stroke="#000" stroke-width="1.6" stroke-linecap="butt"/>
<line x1="318.45" y1="109.2" x2="322.05" y2="109.2" stroke="#000" stroke-width="1.6" stroke-linecap="butt"/>
<line x1="528.5" y1="109.2" x2="524.9" y2="109.2" stroke="#000" stroke-width="1.6" stroke-linecap="butt"/>
<line x1="318.45" y1="57.2" x2="322.05" y2="57.2" stroke="#000" stroke-width="1.6" stroke-linecap="butt"/>
<line x1="528.5" y1="57.2" x2="524.9" y2="57.2" stroke="#000" stroke-width="1.6" stroke-linecap="butt"/>
<line x1="318.45" y1="5.2" x2="322.05" y2="5.2" stroke="#000" stroke-width="1.6" stroke-linecap="butt"/>
<line x1="528.5" y1="5.2" x2="524.9" y2="5.2" stroke="#000" stroke-width="1.6" stroke-linecap="butt"/>
<line x1="318.45" y1="239.2" x2="320.45" y2="239.2" stroke="#000" stroke-width="1.6" stroke-linecap="butt"/>
<line x1="528.5" y1="239.2" x2="526.5" y2="239.2" stroke="#000" stroke-width="1.6" stroke-linecap="butt"/>
<line x1="318.45" y1="187.2" x2="320.45" y2="187.2" stroke="#000" stroke-width="1.6" stroke-linecap="butt"/>
<line x1="528.5" y1="187.2" x2="526.5" y2="187.2" stroke="#000" stroke-width="1.6" stroke-linecap="butt"/>
<line x1="318.45" y1="135.2" x2="320.45" y2="135.2" stroke="#000" stroke-width="1.6" stroke-linecap="butt"/>
<line x1="528.5" y1="135.2" x2="526.5" y2="135.2" stroke="#000" stroke-width="1.6" stroke-linecap="butt"/>
<line x1="318.45" y1="83.2" x2="320.45" y2="83.2" stroke="#000" stroke-width="1.6" stroke-linecap="butt"/>
<line x1="528.5" y1="83.2" x2="526.5" y2="83.2" stroke="#000" stroke-width="1.6" stroke-linecap="butt"/>
<line x1="318.45" y1="31.2" x2="320.45" y2="31.2" stroke="#000" stroke-width="1.6" stroke-linecap="butt"/>
<line x1="528.5" y1="31.2" x2="526.5" y2="31.2" stroke="#000" stroke-width="1.6" stroke-linecap="butt"/>
<line x1="444.8" y1="109.7" x2="444.8" y2="107.8" stroke="#000" stroke-width="1.1" stroke-linecap="butt"/>
<line x1="460.44" y1="109.7" x2="460.44" y2="107.8" stroke="#000" stroke-width="1.1" stroke-linecap="butt"/>
<line x1="476.08" y1="109.7" x2="476.08" y2="107.8" stroke="#000" stroke-width="1.1" stroke-linecap="butt"/>
<line x1="491.72" y1="109.7" x2="491.72" y2="107.8" stroke="#000" stroke-width="1.1" stroke-linecap="butt"/>
<line x1="507.36" y1="109.7" x2="507.36" y2="107.8" stroke="#000" stroke-width="1.1" stroke-linecap="butt"/>
<line x1="523" y1="109.7" x2="523" y2="107.8" stroke="#000" stroke-width="1.1" stroke-linecap="butt"/>
<line x1="436.2" y1="101.8" x2="438.1" y2="101.8" stroke="#000" stroke-width="1.1" stroke-linecap="butt"/>
<line x1="436.2" y1="86.7" x2="438.1" y2="86.7" stroke="#000" stroke-width="1.1" stroke-linecap="butt"/>
<line x1="436.2" y1="71.6" x2="438.1" y2="71.6" stroke="#000" stroke-width="1.1" stroke-linecap="butt"/>
<line x1="436.2" y1="56.5" x2="438.1" y2="56.5" stroke="#000" stroke-width="1.1" stroke-linecap="butt"/>
<line x1="436.2" y1="41.4" x2="438.1" y2="41.4" stroke="#000" stroke-width="1.1" stroke-linecap="butt"/>
<line x1="436.2" y1="26.3" x2="438.1" y2="26.3" stroke="#000" stroke-width="1.1" stroke-linecap="butt"/>
<line x1="436.2" y1="11.2" x2="438.1" y2="11.2" stroke="#000" stroke-width="1.1" stroke-linecap="butt"/>
<rect x="436.2" y="4.6" width="92.3" height="105.1" fill="none" stroke="#000" stroke-width="1.5"/>
<rect x="318.45" y="3.45" width="210.05" height="261.75" fill="none" stroke="#000" stroke-width="2.5"/>
<text x="314.2" y="269.05" font-size="10.67" text-anchor="end" font-weight="normal">0.0</text>
<text x="314.2" y="217.05" font-size="10.67" text-anchor="end" font-weight="normal">0.2</text>
<text x="314.2" y="165.05" font-size="10.67" text-anchor="end" font-weight="normal">0.4</text>
<text x="314.2" y="113.05" font-size="10.67" text-anchor="end" font-weight="normal">0.6</text>
<text x="314.2" y="61.05" font-size="10.67" text-anchor="end" font-weight="normal">0.8</text>
<text x="314.2" y="9.05" font-size="10.67" text-anchor="end" font-weight="normal">1.0</text>
<text x="353.5" y="279.6" font-size="10.67" text-anchor="middle" font-weight="normal">400</text>
<text x="388.5" y="279.6" font-size="10.67" text-anchor="middle" font-weight="normal">500</text>
<text x="423.5" y="279.6" font-size="10.67" text-anchor="middle" font-weight="normal">600</text>
<text x="458.5" y="279.6" font-size="10.67" text-anchor="middle" font-weight="normal">700</text>
<text x="493.5" y="279.6" font-size="10.67" text-anchor="middle" font-weight="normal">800</text>
<text x="424.1" y="294.6" font-size="13.33" text-anchor="middle" font-weight="normal">Wavelength [nm]</text>
<text x="290.4" y="131.6" font-size="13.33" text-anchor="middle" font-weight="normal" transform="rotate(-90 290.4 131.6)">Absorbance</text>
<text x="325.6" y="17.7" font-size="13.33" text-anchor="start" font-weight="bold">c)</text>
<text x="435" y="104.8" font-size="8.4" text-anchor="end" font-weight="normal">400</text>
<text x="435" y="89.7" font-size="8.4" text-anchor="end" font-weight="normal">420</text>
<text x="435" y="74.6" font-size="8.4" text-anchor="end" font-weight="normal">440</text>
<text x="435" y="59.5" font-size="8.4" text-anchor="end" font-weight="normal">460</text>
<text x="435" y="44.4" font-size="8.4" text-anchor="end" font-weight="normal">480</text>
<text x="435" y="29.3" font-size="8.4" text-anchor="end" font-weight="normal">500</text>
<text x="435" y="14.2" font-size="8.4" text-anchor="end" font-weight="normal">520</text>
<clipPath id="ci"><rect x="400" y="0" width="127.3" height="140"/></clipPath>
<g clip-path="url(#ci)">
<text x="444.8" y="119.8" font-size="8.4" text-anchor="middle" font-weight="normal">0.0</text>
<text x="460.44" y="119.8" font-size="8.4" text-anchor="middle" font-weight="normal">0.2</text>
<text x="476.08" y="119.8" font-size="8.4" text-anchor="middle" font-weight="normal">0.4</text>
<text x="491.72" y="119.8" font-size="8.4" text-anchor="middle" font-weight="normal">0.6</text>
<text x="507.36" y="119.8" font-size="8.4" text-anchor="middle" font-weight="normal">0.8</text>
<text x="523" y="119.8" font-size="8.4" text-anchor="middle" font-weight="normal">1.0</text>
<text x="439" y="131.7" font-size="10" text-anchor="start" font-weight="normal"><tspan font-weight="bold">G</tspan>old <tspan font-weight="bold">M</tspan>olar <tspan font-weight="bold">F</tspan>raction</text>
</g>
<text x="418.2" y="54.9" font-size="10" text-anchor="middle" font-weight="normal" transform="rotate(-90 418.2 54.9)">SPR peak position [nm]</text>
<text x="480.8" y="15" font-size="8.9" text-anchor="start" font-weight="normal">R²=0.98</text>
<line x1="443.5" y1="99.5" x2="523.2" y2="4.3" stroke="#0a2828" stroke-width="1.0" stroke-linecap="butt"/>
<line x1="444.8" y1="94.67" x2="444.8" y2="106.67" stroke="#000" stroke-width="1.2" stroke-linecap="butt"/>
<line x1="443.3" y1="94.87" x2="446.3" y2="94.87" stroke="#000" stroke-width="1.3" stroke-linecap="butt"/>
<line x1="443.3" y1="106.47" x2="446.3" y2="106.47" stroke="#000" stroke-width="1.3" stroke-linecap="butt"/>
<line x1="452.62" y1="87.8" x2="452.62" y2="99.8" stroke="#000" stroke-width="1.2" stroke-linecap="butt"/>
<line x1="451.12" y1="88" x2="454.12" y2="88" stroke="#000" stroke-width="1.3" stroke-linecap="butt"/>
<line x1="451.12" y1="99.6" x2="454.12" y2="99.6" stroke="#000" stroke-width="1.3" stroke-linecap="butt"/>
<line x1="460.44" y1="77.98" x2="460.44" y2="89.98" stroke="#000" stroke-width="1.2" stroke-linecap="butt"/>
<line x1="458.94" y1="78.18" x2="461.94" y2="78.18" stroke="#000" stroke-width="1.3" stroke-linecap="butt"/>
<line x1="458.94" y1="89.78" x2="461.94" y2="89.78" stroke="#000" stroke-width="1.3" stroke-linecap="butt"/>
<line x1="468.26" y1="61.07" x2="468.26" y2="73.07" stroke="#000" stroke-width="1.2" stroke-linecap="butt"/>
<line x1="466.76" y1="61.27" x2="469.76" y2="61.27" stroke="#000" stroke-width="1.3" stroke-linecap="butt"/>
<line x1="466.76" y1="72.87" x2="469.76" y2="72.87" stroke="#000" stroke-width="1.3" stroke-linecap="butt"/>
<line x1="483.9" y1="46.88" x2="483.9" y2="58.88" stroke="#000" stroke-width="1.2" stroke-linecap="butt"/>
<line x1="482.4" y1="47.08" x2="485.4" y2="47.08" stroke="#000" stroke-width="1.3" stroke-linecap="butt"/>
<line x1="482.4" y1="58.68" x2="485.4" y2="58.68" stroke="#000" stroke-width="1.3" stroke-linecap="butt"/>
<line x1="491.72" y1="35.1" x2="491.72" y2="47.1" stroke="#000" stroke-width="1.2" stroke-linecap="butt"/>
<line x1="490.22" y1="35.3" x2="493.22" y2="35.3" stroke="#000" stroke-width="1.3" stroke-linecap="butt"/>
<line x1="490.22" y1="46.9" x2="493.22" y2="46.9" stroke="#000" stroke-width="1.3" stroke-linecap="butt"/>
<line x1="507.36" y1="17.13" x2="507.36" y2="29.13" stroke="#000" stroke-width="1.2" stroke-linecap="butt"/>
<line x1="505.86" y1="17.33" x2="508.86" y2="17.33" stroke="#000" stroke-width="1.3" stroke-linecap="butt"/>
<line x1="505.86" y1="28.93" x2="508.86" y2="28.93" stroke="#000" stroke-width="1.3" stroke-linecap="butt"/>
<line x1="523" y1="8.67" x2="523" y2="20.67" stroke="#000" stroke-width="1.2" stroke-linecap="butt"/>
<line x1="521.5" y1="8.87" x2="524.5" y2="8.87" stroke="#000" stroke-width="1.3" stroke-linecap="butt"/>
<line x1="521.5" y1="20.47" x2="524.5" y2="20.47" stroke="#000" stroke-width="1.3" stroke-linecap="butt"/>
<rect x="440.8" y="96.67" width="8" height="8" fill="#eeff33"/>
<rect x="448.97" y="90.15" width="7.3" height="7.3" fill="#ffc21e"/>
<rect x="456.79" y="80.33" width="7.3" height="7.3" fill="#ff7f1e"/>
<rect x="464.61" y="63.42" width="7.3" height="7.3" fill="#ff4518"/>
<rect x="480.25" y="49.23" width="7.3" height="7.3" fill="#ff3030"/>
<rect x="488.07" y="37.45" width="7.3" height="7.3" fill="#ff0c0c"/>
<rect x="503.71" y="19.48" width="7.3" height="7.3" fill="#5a0c0c"/>
<rect x="519.35" y="11.02" width="7.3" height="7.3" fill="#101010"/>
<line x1="443.5" y1="99.5" x2="523.2" y2="4.3" stroke="#0a2828" stroke-width="1.0" stroke-linecap="butt"/>
<text x="464.1" y="163.6" font-size="10.1" text-anchor="start" font-weight="bold">GMF</text>
<line x1="463.9" y1="165.7" x2="486.6" y2="165.7" stroke="#000" stroke-width="1.0" stroke-linecap="butt"/>
<line x1="463" y1="171.3" x2="485.6" y2="171.3" stroke="#300404" stroke-width="1.6" stroke-linecap="butt"/>
<text x="488.2" y="174.1" font-size="9.3" text-anchor="start" font-weight="normal">1</text>
<line x1="463" y1="182.93" x2="485.6" y2="182.93" stroke="#5a0a0a" stroke-width="1.6" stroke-linecap="butt"/>
<text x="488.2" y="185.73" font-size="9.3" text-anchor="start" font-weight="normal">0.8</text>
<line x1="463" y1="194.56" x2="485.6" y2="194.56" stroke="#ff0000" stroke-width="1.6" stroke-linecap="butt"/>
<text x="488.2" y="197.36" font-size="9.3" text-anchor="start" font-weight="normal">0.6</text>
<line x1="463" y1="206.19" x2="485.6" y2="206.19" stroke="#ff1a1a" stroke-width="1.6" stroke-linecap="butt"/>
<text x="488.2" y="208.99" font-size="9.3" text-anchor="start" font-weight="normal">0.5</text>
<line x1="463" y1="217.82" x2="485.6" y2="217.82" stroke="#ff3a10" stroke-width="1.6" stroke-linecap="butt"/>
<text x="488.2" y="220.62" font-size="9.3" text-anchor="start" font-weight="normal">0.3</text>
<line x1="463" y1="229.45" x2="485.6" y2="229.45" stroke="#ff7800" stroke-width="1.6" stroke-linecap="butt"/>
<text x="488.2" y="232.25" font-size="9.3" text-anchor="start" font-weight="normal">0.2</text>
<line x1="463" y1="241.08" x2="485.6" y2="241.08" stroke="#ffc000" stroke-width="1.6" stroke-linecap="butt"/>
<text x="488.2" y="243.88" font-size="9.3" text-anchor="start" font-weight="normal">0.1</text>
<line x1="463" y1="252.71" x2="485.6" y2="252.71" stroke="#ffc000" stroke-width="1.6" stroke-linecap="butt"/>
<text x="488.2" y="255.51" font-size="9.3" text-anchor="start" font-weight="normal">0</text>
</svg>
</body></html>
